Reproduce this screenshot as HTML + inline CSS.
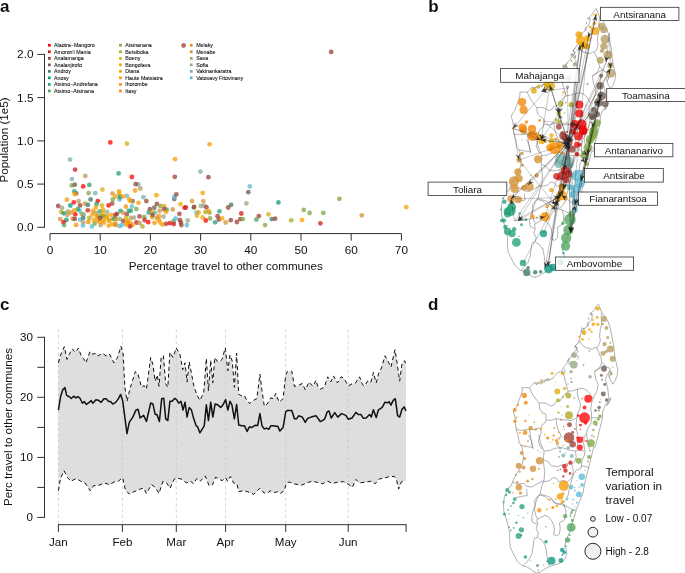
<!DOCTYPE html><html><head><meta charset="utf-8"><title>Figure</title>
<style>html,body{margin:0;padding:0;background:#fff}svg{display:block}text{font-family:"Liberation Sans",sans-serif;fill:#111}</style></head><body>
<svg width="685" height="573" viewBox="0 0 685 573">
<rect width="685" height="573" fill="#fff"/>
<text x="0" y="12.3" font-size="17" font-weight="bold" fill="#000">a</text>
<text x="428.3" y="12.3" font-size="17" font-weight="bold" fill="#000">b</text>
<text x="0" y="309.8" font-size="17" font-weight="bold" fill="#000">c</text>
<text x="428" y="309.8" font-size="17" font-weight="bold" fill="#000">d</text>
<g id="pa">
<g stroke="#303030" stroke-width="1" fill="none">
<path d="M50.0 233.6H401.4"/>
<path d="M50.0 233.6V240.6"/>
<path d="M100.2 233.6V240.6"/>
<path d="M150.4 233.6V240.6"/>
<path d="M200.6 233.6V240.6"/>
<path d="M250.8 233.6V240.6"/>
<path d="M301.0 233.6V240.6"/>
<path d="M351.2 233.6V240.6"/>
<path d="M401.4 233.6V240.6"/>
<path d="M44.5 227.8V53.9"/>
<path d="M44.5 227.3H37.3"/>
<path d="M44.5 184.1H37.3"/>
<path d="M44.5 140.9H37.3"/>
<path d="M44.5 97.6H37.3"/>
<path d="M44.5 54.4H37.3"/>
</g>
<text x="50.0" y="253.8" font-size="11.8" text-anchor="middle">0</text>
<text x="100.2" y="253.8" font-size="11.8" text-anchor="middle">10</text>
<text x="150.4" y="253.8" font-size="11.8" text-anchor="middle">20</text>
<text x="200.6" y="253.8" font-size="11.8" text-anchor="middle">30</text>
<text x="250.8" y="253.8" font-size="11.8" text-anchor="middle">40</text>
<text x="301.0" y="253.8" font-size="11.8" text-anchor="middle">50</text>
<text x="351.2" y="253.8" font-size="11.8" text-anchor="middle">60</text>
<text x="401.4" y="253.8" font-size="11.8" text-anchor="middle">70</text>
<text x="33.5" y="231.3" font-size="11.8" text-anchor="end">0.0</text>
<text x="33.5" y="188.1" font-size="11.8" text-anchor="end">0.5</text>
<text x="33.5" y="144.9" font-size="11.8" text-anchor="end">1.0</text>
<text x="33.5" y="101.6" font-size="11.8" text-anchor="end">1.5</text>
<text x="33.5" y="58.4" font-size="11.8" text-anchor="end">2.0</text>
<text x="225.8" y="270.2" font-size="11.65" text-anchor="middle">Percentage travel to other communes</text>
<text transform="translate(8.1,140) rotate(-90)" font-size="11.6" text-anchor="middle">Population (1e5)</text>
<rect x="48.0" y="43.9" width="2.7" height="2.7" fill="#ff0000"/>
<text x="54" y="47.0" font-size="5.3" fill="#000" stroke="#000" stroke-width="0.08">Alaotra−Mangoro</text>
<rect x="48.0" y="50.4" width="2.7" height="2.7" fill="#ce1e1a"/>
<text x="54" y="53.5" font-size="5.3" fill="#000" stroke="#000" stroke-width="0.08">Amoron'i Mania</text>
<rect x="48.0" y="57.0" width="2.7" height="2.7" fill="#9e3d35"/>
<text x="54" y="60.1" font-size="5.3" fill="#000" stroke="#000" stroke-width="0.08">Analamanga</text>
<rect x="48.0" y="63.5" width="2.7" height="2.7" fill="#6d5b4f"/>
<text x="54" y="66.6" font-size="5.3" fill="#000" stroke="#000" stroke-width="0.08">Analanjirofo</text>
<rect x="48.0" y="70.0" width="2.7" height="2.7" fill="#3d7a69"/>
<text x="54" y="73.1" font-size="5.3" fill="#000" stroke="#000" stroke-width="0.08">Androy</text>
<rect x="48.0" y="76.5" width="2.7" height="2.7" fill="#0c9883"/>
<text x="54" y="79.6" font-size="5.3" fill="#000" stroke="#000" stroke-width="0.08">Anosy</text>
<rect x="48.0" y="83.1" width="2.7" height="2.7" fill="#23a276"/>
<text x="54" y="86.2" font-size="5.3" fill="#000" stroke="#000" stroke-width="0.08">Atsimo−Andrefana</text>
<rect x="48.0" y="89.6" width="2.7" height="2.7" fill="#51a45c"/>
<text x="54" y="92.7" font-size="5.3" fill="#000" stroke="#000" stroke-width="0.08">Atsimo−Atsinana</text>
<rect x="119.1" y="43.9" width="2.7" height="2.7" fill="#7fa742"/>
<text x="125.3" y="47.0" font-size="5.3" fill="#000" stroke="#000" stroke-width="0.08">Atsinanana</text>
<rect x="119.1" y="50.4" width="2.7" height="2.7" fill="#ada927"/>
<text x="125.3" y="53.5" font-size="5.3" fill="#000" stroke="#000" stroke-width="0.08">Betsiboka</text>
<rect x="119.1" y="57.0" width="2.7" height="2.7" fill="#dbac0d"/>
<text x="125.3" y="60.1" font-size="5.3" fill="#000" stroke="#000" stroke-width="0.08">Boeny</text>
<rect x="119.1" y="63.5" width="2.7" height="2.7" fill="#f3a900"/>
<text x="125.3" y="66.6" font-size="5.3" fill="#000" stroke="#000" stroke-width="0.08">Bongolava</text>
<rect x="119.1" y="70.0" width="2.7" height="2.7" fill="#f4a100"/>
<text x="125.3" y="73.1" font-size="5.3" fill="#000" stroke="#000" stroke-width="0.08">Diana</text>
<rect x="119.1" y="76.5" width="2.7" height="2.7" fill="#f59900"/>
<text x="125.3" y="79.6" font-size="5.3" fill="#000" stroke="#000" stroke-width="0.08">Haute Matsiatra</text>
<rect x="119.1" y="83.1" width="2.7" height="2.7" fill="#f79200"/>
<text x="125.3" y="86.2" font-size="5.3" fill="#000" stroke="#000" stroke-width="0.08">Ihorombe</text>
<rect x="119.1" y="89.6" width="2.7" height="2.7" fill="#f88a00"/>
<text x="125.3" y="92.7" font-size="5.3" fill="#000" stroke="#000" stroke-width="0.08">Itasy</text>
<rect x="189.9" y="43.9" width="2.7" height="2.7" fill="#f1870a"/>
<text x="196.2" y="47.0" font-size="5.3" fill="#000" stroke="#000" stroke-width="0.08">Melaky</text>
<rect x="189.9" y="50.4" width="2.7" height="2.7" fill="#d39133"/>
<text x="196.2" y="53.5" font-size="5.3" fill="#000" stroke="#000" stroke-width="0.08">Menabe</text>
<rect x="189.9" y="57.0" width="2.7" height="2.7" fill="#b59c5c"/>
<text x="196.2" y="60.1" font-size="5.3" fill="#000" stroke="#000" stroke-width="0.08">Sava</text>
<rect x="189.9" y="63.5" width="2.7" height="2.7" fill="#97a784"/>
<text x="196.2" y="66.6" font-size="5.3" fill="#000" stroke="#000" stroke-width="0.08">Sofia</text>
<rect x="189.9" y="70.0" width="2.7" height="2.7" fill="#79b1ad"/>
<text x="196.2" y="73.1" font-size="5.3" fill="#000" stroke="#000" stroke-width="0.08">Vakinankaratra</text>
<rect x="189.9" y="76.5" width="2.7" height="2.7" fill="#5bbcd6"/>
<text x="196.2" y="79.6" font-size="5.3" fill="#000" stroke="#000" stroke-width="0.08">Vatovavy Fitovinany</text>
<g fill-opacity="0.75">
<circle cx="72.0" cy="179.1" r="2.4" fill="#79b1ad"/>
<circle cx="85.3" cy="176.0" r="2.4" fill="#b59c5c"/>
<circle cx="71.8" cy="185.4" r="2.4" fill="#7fa742"/>
<circle cx="74.8" cy="184.7" r="2.4" fill="#6d5b4f"/>
<circle cx="83.2" cy="186.4" r="2.4" fill="#ff0000"/>
<circle cx="89.3" cy="184.9" r="2.4" fill="#23a276"/>
<circle cx="102.4" cy="189.6" r="2.4" fill="#dbac0d"/>
<circle cx="76.1" cy="193.4" r="2.4" fill="#9e3d35"/>
<circle cx="74.3" cy="191.4" r="2.4" fill="#23a276"/>
<circle cx="74.5" cy="194.1" r="2.4" fill="#f3a900"/>
<circle cx="88.6" cy="193.1" r="2.4" fill="#7fa742"/>
<circle cx="95.2" cy="193.2" r="2.4" fill="#79b1ad"/>
<circle cx="112.5" cy="193.6" r="2.4" fill="#d39133"/>
<circle cx="115.4" cy="196.5" r="2.4" fill="#f4a100"/>
<circle cx="112.8" cy="199.5" r="2.4" fill="#7fa742"/>
<circle cx="66.9" cy="199.7" r="2.4" fill="#f59900"/>
<circle cx="73.8" cy="202.3" r="2.4" fill="#ff0000"/>
<circle cx="78.6" cy="201.1" r="2.4" fill="#b59c5c"/>
<circle cx="90.6" cy="199.5" r="2.4" fill="#3d7a69"/>
<circle cx="97.8" cy="201.1" r="2.4" fill="#ff0000"/>
<circle cx="84.9" cy="203.6" r="2.4" fill="#d39133"/>
<circle cx="87.8" cy="204.9" r="2.4" fill="#3d7a69"/>
<circle cx="96.5" cy="204.1" r="2.4" fill="#23a276"/>
<circle cx="101.9" cy="205.5" r="2.4" fill="#dbac0d"/>
<circle cx="108.6" cy="205.4" r="2.4" fill="#ff0000"/>
<circle cx="112.1" cy="203.6" r="2.4" fill="#9e3d35"/>
<circle cx="70.4" cy="205.5" r="2.4" fill="#0c9883"/>
<circle cx="80.1" cy="205.4" r="2.4" fill="#9e3d35"/>
<circle cx="58.2" cy="206.0" r="2.4" fill="#9e3d35"/>
<circle cx="62.0" cy="207.9" r="2.4" fill="#97a784"/>
<circle cx="95.8" cy="207.7" r="2.4" fill="#f4a100"/>
<circle cx="87.8" cy="210.3" r="2.4" fill="#ce1e1a"/>
<circle cx="79.6" cy="210.6" r="2.4" fill="#5bbcd6"/>
<circle cx="77.8" cy="209.2" r="2.4" fill="#23a276"/>
<circle cx="74.2" cy="210.3" r="2.4" fill="#f4a100"/>
<circle cx="67.9" cy="211.6" r="2.4" fill="#ada927"/>
<circle cx="61.2" cy="212.0" r="2.4" fill="#dbac0d"/>
<circle cx="63.8" cy="213.3" r="2.4" fill="#0c9883"/>
<circle cx="70.9" cy="212.6" r="2.4" fill="#d39133"/>
<circle cx="75.3" cy="214.3" r="2.4" fill="#ff0000"/>
<circle cx="81.7" cy="213.8" r="2.4" fill="#7fa742"/>
<circle cx="83.7" cy="214.3" r="2.4" fill="#97a784"/>
<circle cx="67.4" cy="214.9" r="2.4" fill="#b59c5c"/>
<circle cx="60.2" cy="219.1" r="2.4" fill="#d39133"/>
<circle cx="66.4" cy="220.0" r="2.4" fill="#0c9883"/>
<circle cx="72.7" cy="218.7" r="2.4" fill="#d39133"/>
<circle cx="74.8" cy="218.9" r="2.4" fill="#9e3d35"/>
<circle cx="63.5" cy="222.2" r="2.4" fill="#ff0000"/>
<circle cx="64.1" cy="225.1" r="2.4" fill="#51a45c"/>
<circle cx="76.1" cy="224.9" r="2.4" fill="#f79200"/>
<circle cx="80.1" cy="219.7" r="2.4" fill="#5bbcd6"/>
<circle cx="83.2" cy="217.9" r="2.4" fill="#3d7a69"/>
<circle cx="83.2" cy="222.5" r="2.4" fill="#b59c5c"/>
<circle cx="82.9" cy="225.6" r="2.4" fill="#5bbcd6"/>
<circle cx="88.3" cy="222.0" r="2.4" fill="#f88a00"/>
<circle cx="89.3" cy="217.9" r="2.4" fill="#ada927"/>
<circle cx="91.9" cy="226.4" r="2.4" fill="#5bbcd6"/>
<circle cx="94.7" cy="223.5" r="2.4" fill="#7fa742"/>
<circle cx="100.6" cy="225.1" r="2.4" fill="#b59c5c"/>
<circle cx="92.9" cy="210.8" r="2.4" fill="#f59900"/>
<circle cx="96.0" cy="212.8" r="2.4" fill="#b59c5c"/>
<circle cx="100.1" cy="211.3" r="2.4" fill="#23a276"/>
<circle cx="103.1" cy="209.7" r="2.4" fill="#f4a100"/>
<circle cx="107.2" cy="211.8" r="2.4" fill="#79b1ad"/>
<circle cx="98.0" cy="215.9" r="2.4" fill="#7fa742"/>
<circle cx="103.1" cy="215.9" r="2.4" fill="#0c9883"/>
<circle cx="106.2" cy="217.9" r="2.4" fill="#dbac0d"/>
<circle cx="109.3" cy="220.0" r="2.4" fill="#d39133"/>
<circle cx="103.1" cy="220.0" r="2.4" fill="#dbac0d"/>
<circle cx="97.5" cy="220.0" r="2.4" fill="#f59900"/>
<circle cx="108.8" cy="225.6" r="2.4" fill="#f59900"/>
<circle cx="112.3" cy="224.1" r="2.4" fill="#f4a100"/>
<circle cx="115.4" cy="225.1" r="2.4" fill="#f79200"/>
<circle cx="113.4" cy="218.9" r="2.4" fill="#51a45c"/>
<circle cx="111.3" cy="214.9" r="2.4" fill="#f4a100"/>
<circle cx="115.4" cy="214.9" r="2.4" fill="#9e3d35"/>
<circle cx="93.9" cy="220.0" r="2.4" fill="#f4a100"/>
<circle cx="131.9" cy="177.0" r="2.4" fill="#ff0000"/>
<circle cx="174.8" cy="176.8" r="2.4" fill="#9e3d35"/>
<circle cx="138.3" cy="184.4" r="2.4" fill="#79b1ad"/>
<circle cx="135.7" cy="184.2" r="2.4" fill="#9e3d35"/>
<circle cx="140.3" cy="188.5" r="2.4" fill="#b59c5c"/>
<circle cx="135.1" cy="190.5" r="2.4" fill="#f59900"/>
<circle cx="119.1" cy="193.4" r="2.4" fill="#f3a900"/>
<circle cx="119.1" cy="191.4" r="2.4" fill="#f4a100"/>
<circle cx="126.8" cy="195.9" r="2.4" fill="#79b1ad"/>
<circle cx="119.6" cy="199.5" r="2.4" fill="#5bbcd6"/>
<circle cx="119.9" cy="197.0" r="2.4" fill="#0c9883"/>
<circle cx="122.7" cy="196.5" r="2.4" fill="#f59900"/>
<circle cx="129.3" cy="199.5" r="2.4" fill="#f59900"/>
<circle cx="132.6" cy="201.1" r="2.4" fill="#6d5b4f"/>
<circle cx="130.3" cy="201.1" r="2.4" fill="#f4a100"/>
<circle cx="143.4" cy="197.2" r="2.4" fill="#79b1ad"/>
<circle cx="146.4" cy="201.1" r="2.4" fill="#9e3d35"/>
<circle cx="138.5" cy="202.8" r="2.4" fill="#f59900"/>
<circle cx="156.4" cy="195.2" r="2.4" fill="#f4a100"/>
<circle cx="174.3" cy="199.0" r="2.4" fill="#6d5b4f"/>
<circle cx="174.3" cy="196.8" r="2.4" fill="#5bbcd6"/>
<circle cx="176.3" cy="194.4" r="2.4" fill="#9e3d35"/>
<circle cx="180.4" cy="204.1" r="2.4" fill="#f3a900"/>
<circle cx="184.5" cy="207.7" r="2.4" fill="#ce1e1a"/>
<circle cx="125.9" cy="206.7" r="2.4" fill="#f79200"/>
<circle cx="131.9" cy="206.5" r="2.4" fill="#5bbcd6"/>
<circle cx="136.3" cy="209.0" r="2.4" fill="#7fa742"/>
<circle cx="156.9" cy="203.9" r="2.4" fill="#9e3d35"/>
<circle cx="154.3" cy="207.7" r="2.4" fill="#6d5b4f"/>
<circle cx="160.2" cy="206.0" r="2.4" fill="#7fa742"/>
<circle cx="164.1" cy="206.2" r="2.4" fill="#f4a100"/>
<circle cx="149.9" cy="209.2" r="2.4" fill="#9e3d35"/>
<circle cx="166.6" cy="209.7" r="2.4" fill="#23a276"/>
<circle cx="164.1" cy="209.2" r="2.4" fill="#9e3d35"/>
<circle cx="159.7" cy="210.8" r="2.4" fill="#d39133"/>
<circle cx="172.7" cy="209.5" r="2.4" fill="#d39133"/>
<circle cx="166.1" cy="211.8" r="2.4" fill="#f59900"/>
<circle cx="179.4" cy="213.8" r="2.4" fill="#9e3d35"/>
<circle cx="120.6" cy="210.8" r="2.4" fill="#23a276"/>
<circle cx="128.8" cy="210.8" r="2.4" fill="#23a276"/>
<circle cx="130.8" cy="210.8" r="2.4" fill="#23a276"/>
<circle cx="117.0" cy="213.8" r="2.4" fill="#9e3d35"/>
<circle cx="123.2" cy="212.8" r="2.4" fill="#d39133"/>
<circle cx="126.8" cy="214.3" r="2.4" fill="#9e3d35"/>
<circle cx="148.7" cy="212.6" r="2.4" fill="#23a276"/>
<circle cx="155.1" cy="212.6" r="2.4" fill="#5bbcd6"/>
<circle cx="152.5" cy="212.3" r="2.4" fill="#dbac0d"/>
<circle cx="152.3" cy="217.4" r="2.4" fill="#dbac0d"/>
<circle cx="152.5" cy="214.9" r="2.4" fill="#9e3d35"/>
<circle cx="158.9" cy="215.9" r="2.4" fill="#f59900"/>
<circle cx="163.5" cy="216.7" r="2.4" fill="#97a784"/>
<circle cx="139.5" cy="216.4" r="2.4" fill="#9e3d35"/>
<circle cx="144.3" cy="216.9" r="2.4" fill="#7fa742"/>
<circle cx="133.9" cy="217.7" r="2.4" fill="#97a784"/>
<circle cx="130.8" cy="217.9" r="2.4" fill="#b59c5c"/>
<circle cx="119.6" cy="218.9" r="2.4" fill="#97a784"/>
<circle cx="123.2" cy="221.0" r="2.4" fill="#9e3d35"/>
<circle cx="115.0" cy="218.9" r="2.4" fill="#3d7a69"/>
<circle cx="127.3" cy="221.0" r="2.4" fill="#f59900"/>
<circle cx="130.3" cy="223.0" r="2.4" fill="#f4a100"/>
<circle cx="125.7" cy="224.6" r="2.4" fill="#f59900"/>
<circle cx="132.4" cy="225.1" r="2.4" fill="#f79200"/>
<circle cx="129.8" cy="226.4" r="2.4" fill="#ce1e1a"/>
<circle cx="119.6" cy="226.1" r="2.4" fill="#5bbcd6"/>
<circle cx="115.5" cy="224.1" r="2.4" fill="#d39133"/>
<circle cx="121.6" cy="225.1" r="2.4" fill="#5bbcd6"/>
<circle cx="136.5" cy="222.5" r="2.4" fill="#ce1e1a"/>
<circle cx="139.5" cy="223.0" r="2.4" fill="#b59c5c"/>
<circle cx="142.4" cy="226.4" r="2.4" fill="#ada927"/>
<circle cx="144.6" cy="220.0" r="2.4" fill="#ce1e1a"/>
<circle cx="148.2" cy="222.2" r="2.4" fill="#ff0000"/>
<circle cx="154.5" cy="222.8" r="2.4" fill="#f79200"/>
<circle cx="158.9" cy="220.0" r="2.4" fill="#f59900"/>
<circle cx="160.0" cy="222.5" r="2.4" fill="#f4a100"/>
<circle cx="162.5" cy="224.6" r="2.4" fill="#f4a100"/>
<circle cx="166.1" cy="223.8" r="2.4" fill="#9e3d35"/>
<circle cx="169.9" cy="223.2" r="2.4" fill="#ff0000"/>
<circle cx="173.8" cy="221.0" r="2.4" fill="#51a45c"/>
<circle cx="173.8" cy="224.1" r="2.4" fill="#ce1e1a"/>
<circle cx="175.6" cy="218.4" r="2.4" fill="#5bbcd6"/>
<circle cx="179.9" cy="220.0" r="2.4" fill="#9e3d35"/>
<circle cx="180.9" cy="222.5" r="2.4" fill="#9e3d35"/>
<circle cx="181.4" cy="225.1" r="2.4" fill="#9e3d35"/>
<circle cx="156.9" cy="217.9" r="2.4" fill="#d39133"/>
<circle cx="208.4" cy="177.2" r="2.4" fill="#9e3d35"/>
<circle cx="202.7" cy="192.9" r="2.4" fill="#f4a100"/>
<circle cx="249.8" cy="186.4" r="2.4" fill="#5bbcd6"/>
<circle cx="248.3" cy="192.2" r="2.4" fill="#6d5b4f"/>
<circle cx="192.0" cy="201.1" r="2.4" fill="#d39133"/>
<circle cx="203.3" cy="201.1" r="2.4" fill="#d39133"/>
<circle cx="246.4" cy="203.4" r="2.4" fill="#97a784"/>
<circle cx="231.1" cy="204.8" r="2.4" fill="#3d7a69"/>
<circle cx="228.2" cy="207.5" r="2.4" fill="#9e3d35"/>
<circle cx="185.9" cy="207.5" r="2.4" fill="#ce1e1a"/>
<circle cx="193.8" cy="207.5" r="2.4" fill="#7fa742"/>
<circle cx="194.1" cy="206.9" r="2.4" fill="#9e3d35"/>
<circle cx="200.9" cy="206.0" r="2.4" fill="#97a784"/>
<circle cx="204.0" cy="205.7" r="2.4" fill="#97a784"/>
<circle cx="206.4" cy="207.2" r="2.4" fill="#9e3d35"/>
<circle cx="208.6" cy="210.8" r="2.4" fill="#f4a100"/>
<circle cx="205.5" cy="212.0" r="2.4" fill="#ada927"/>
<circle cx="209.6" cy="212.8" r="2.4" fill="#ada927"/>
<circle cx="219.5" cy="211.3" r="2.4" fill="#23a276"/>
<circle cx="241.3" cy="213.5" r="2.4" fill="#ce1e1a"/>
<circle cx="196.4" cy="212.6" r="2.4" fill="#5bbcd6"/>
<circle cx="198.6" cy="212.3" r="2.4" fill="#f4a100"/>
<circle cx="196.9" cy="215.7" r="2.4" fill="#dbac0d"/>
<circle cx="202.8" cy="217.4" r="2.4" fill="#f4a100"/>
<circle cx="210.1" cy="218.4" r="2.4" fill="#7fa742"/>
<circle cx="205.8" cy="220.5" r="2.4" fill="#ff0000"/>
<circle cx="217.6" cy="216.2" r="2.4" fill="#9e3d35"/>
<circle cx="218.8" cy="219.5" r="2.4" fill="#9e3d35"/>
<circle cx="222.1" cy="218.4" r="2.4" fill="#f4a100"/>
<circle cx="215.1" cy="222.3" r="2.4" fill="#23a276"/>
<circle cx="225.7" cy="222.5" r="2.4" fill="#d39133"/>
<circle cx="230.8" cy="220.2" r="2.4" fill="#9e3d35"/>
<circle cx="236.9" cy="222.0" r="2.4" fill="#9e3d35"/>
<circle cx="240.3" cy="219.1" r="2.4" fill="#9e3d35"/>
<circle cx="242.8" cy="219.1" r="2.4" fill="#7fa742"/>
<circle cx="187.7" cy="220.5" r="2.4" fill="#97a784"/>
<circle cx="186.9" cy="225.1" r="2.4" fill="#5bbcd6"/>
<circle cx="278.4" cy="202.4" r="2.4" fill="#0c9883"/>
<circle cx="303.8" cy="209.9" r="2.4" fill="#7fa742"/>
<circle cx="309.6" cy="213.0" r="2.4" fill="#7fa742"/>
<circle cx="258.8" cy="216.1" r="2.4" fill="#9e3d35"/>
<circle cx="256.4" cy="219.5" r="2.4" fill="#51a45c"/>
<circle cx="268.5" cy="214.3" r="2.4" fill="#dbac0d"/>
<circle cx="271.8" cy="219.1" r="2.4" fill="#3d7a69"/>
<circle cx="275.1" cy="218.7" r="2.4" fill="#9e3d35"/>
<circle cx="265.1" cy="225.1" r="2.4" fill="#7fa742"/>
<circle cx="291.2" cy="220.3" r="2.4" fill="#ada927"/>
<circle cx="302.0" cy="220.0" r="2.4" fill="#f4a100"/>
<circle cx="339.4" cy="198.8" r="2.4" fill="#7fa742"/>
<circle cx="323.3" cy="212.9" r="2.4" fill="#7fa742"/>
<circle cx="320.4" cy="223.3" r="2.4" fill="#ce1e1a"/>
<circle cx="361.8" cy="215.3" r="2.4" fill="#d39133"/>
<circle cx="406.3" cy="207.2" r="2.4" fill="#f4a100"/>
<circle cx="110.3" cy="142.4" r="2.4" fill="#ff0000"/>
<circle cx="126.9" cy="143.7" r="2.4" fill="#dbac0d"/>
<circle cx="70.0" cy="159.6" r="2.4" fill="#79b1ad"/>
<circle cx="75.1" cy="169.6" r="2.4" fill="#ce1e1a"/>
<circle cx="118.6" cy="173.4" r="2.4" fill="#23a276"/>
<circle cx="209.6" cy="144.3" r="2.4" fill="#f4a100"/>
<circle cx="175.1" cy="159.2" r="2.4" fill="#f4a100"/>
<circle cx="200.4" cy="171.6" r="2.4" fill="#79b1ad"/>
<circle cx="183.6" cy="45.5" r="2.4" fill="#9e3d35"/>
<circle cx="331.2" cy="51.9" r="2.4" fill="#9e3d35"/>
<circle cx="96.7" cy="216" r="2.4" fill="#f4a100"/>
<circle cx="106.9" cy="216" r="2.4" fill="#f59900"/>
<circle cx="109" cy="220.7" r="2.4" fill="#f4a100"/>
<circle cx="104" cy="222.5" r="2.4" fill="#f59900"/>
<circle cx="99.6" cy="221.8" r="2.4" fill="#f79200"/>
<circle cx="92.3" cy="214.5" r="2.4" fill="#f4a100"/>
<circle cx="125.9" cy="218.1" r="2.4" fill="#dbac0d"/>
<circle cx="101.8" cy="216" r="2.4" fill="#7fa742"/>
<circle cx="115.7" cy="219.6" r="2.4" fill="#dbac0d"/>
<circle cx="128" cy="222.5" r="2.4" fill="#f59900"/>
<circle cx="103.2" cy="213" r="2.4" fill="#f3a900"/>
<circle cx="100" cy="218.1" r="2.4" fill="#9e3d35"/>
</g>
</g>
<g id="pc">
<path d="M58.41,362.92 L60.51,355.04 L64.36,346.63 L66.99,359.42 L69.27,354.16 L72.25,348.91 L75.4,352.41 L78.38,348.03 L81.53,356.79 L83.64,358.54 L85.91,362.92 L89.94,351.53 L92.92,354.16 L95.9,353.28 L98.18,355.91 L102.55,353.28 L106.06,355.91 L109.56,354.16 L113.94,362.92 L117.45,357.66 L120.95,346.28 L123.14,354.01 L124.89,387.3 L126.99,401.31 L130.15,388.18 L135.4,371.53 L138.03,374.16 L141.53,387.3 L144.16,385.55 L146.44,389.05 L150.64,357.52 L152.92,364.53 L155.2,381.17 L157.3,375.04 L159.05,386.42 L161.15,357.52 L163.43,355.77 L165.71,383.8 L167.81,387.3 L169.91,352.26 L173.07,357.52 L176.22,347.88 L180.07,354.89 L182.7,369.78 L184.98,362.77 L187.08,382.04 L189.18,361.9 L191.46,373.28 L193.74,385.55 L196.72,394.31 L199.87,400.44 L203.72,392.55 L206.35,358.39 L208.45,390.8 L210.73,360.15 L212.83,382.92 L214.76,357.52 L217.74,361.9 L220.36,361.02 L222.12,359.27 L225.27,347.88 L227.88,370.66 L229.99,354.89 L232.26,361.02 L234.36,387.3 L236.64,353.14 L238.74,394.31 L241.9,396.06 L244.53,395.71 L247.15,401.31 L249.78,403.42 L253.28,400.44 L256.79,398.69 L259.94,374.16 L262.04,390.8 L264.32,406.22 L267.3,403.94 L270.8,397.81 L273.43,398.69 L275.71,393.43 L279.21,402.19 L283.07,398.69 L285.69,375.04 L287.45,371.53 L291.82,371.18 L294.45,386.42 L297.96,385.55 L302.34,383.45 L305.31,389.93 L308.99,382.04 L312.85,386.42 L316.0,380.29 L318.1,387.3 L320.73,389.05 L324.23,387.3 L327.74,376.79 L330.72,382.04 L333.52,375.91 L337.37,382.92 L341.18,376.79 L344.16,378.54 L348.19,385.9 L352.04,383.8 L355.55,382.92 L359.58,376.79 L362.55,384.67 L364.66,385.9 L367.81,380.64 L370.96,382.04 L373.42,372.41 L376.22,382.92 L378.67,373.28 L381.47,368.03 L384.98,355.77 L387.96,361.02 L390.93,367.15 L394.96,349.64 L397.07,362.77 L399.69,381.17 L401.97,363.65 L404.6,360.67 L406.0,364.53 L406,364.5 L406,480.3 405.69,480.29 L403.94,480.64 L401.31,482.04 L398.69,489.05 L396.41,479.42 L394.31,476.44 L389.93,476.44 L383.87,478.19 L379.49,478.89 L375.11,483.8 L371.61,481.17 L366.35,482.04 L359.34,482.92 L355.84,479.42 L352.34,487.3 L348.83,484.67 L343.58,481.69 L338.32,482.04 L332.19,483.45 L327.81,481.17 L322.55,483.8 L317.3,482.39 L312.04,481.17 L306.79,482.92 L301.53,485.2 L298.91,484.67 L293.65,483.8 L289.27,482.04 L286.64,482.92 L284.01,490.8 L280.51,493.43 L277.88,491.68 L274.38,492.55 L270.0,490.8 L268.61,492.55 L264.23,493.08 L259.85,488.18 L253.72,494.31 L247.59,491.68 L243.21,490.8 L238.83,491.68 L236.73,483.45 L233.58,482.92 L230.42,476.44 L227.45,481.17 L225.69,477.66 L222.19,480.64 L219.56,479.42 L215.71,477.14 L212.55,484.67 L209.05,485.55 L205.2,475.91 L200.29,481.17 L196.79,478.54 L193.28,483.8 L190.66,481.17 L186.28,482.92 L181.02,478.89 L176.64,478.19 L174.01,479.42 L170.16,488.18 L166.5,482.92 L162.99,481.17 L158.96,493.43 L155.11,487.3 L151.61,484.67 L146.35,493.43 L143.72,488.18 L140.22,489.05 L134.09,491.68 L129.18,493.96 L125.33,489.93 L122.7,477.66 L118.32,481.17 L113.94,482.04 L109.56,484.67 L104.31,482.92 L98.18,485.55 L93.8,485.55 L90.29,490.8 L85.04,482.92 L80.66,481.17 L76.28,478.54 L71.02,481.17 L67.52,477.66 L64.01,470.66 L60.51,478.54 L58.41,490.8Z" fill="#dedede"/>
<g stroke="#c6c6c6" stroke-width="0.8" stroke-dasharray="2.9 2.9" fill="none">
<path d="M58.4 329.5V524"/>
<path d="M122.4 329.5V524"/>
<path d="M176.3 329.5V524"/>
<path d="M225.6 329.5V524"/>
<path d="M285.7 329.5V524"/>
<path d="M348.2 329.5V524"/>
</g>
<g stroke="#111" fill="none" stroke-linejoin="round">
<path stroke-width="1" stroke-dasharray="4 3" d="M58.41,362.92 L60.51,355.04 L64.36,346.63 L66.99,359.42 L69.27,354.16 L72.25,348.91 L75.4,352.41 L78.38,348.03 L81.53,356.79 L83.64,358.54 L85.91,362.92 L89.94,351.53 L92.92,354.16 L95.9,353.28 L98.18,355.91 L102.55,353.28 L106.06,355.91 L109.56,354.16 L113.94,362.92 L117.45,357.66 L120.95,346.28 L123.14,354.01 L124.89,387.3 L126.99,401.31 L130.15,388.18 L135.4,371.53 L138.03,374.16 L141.53,387.3 L144.16,385.55 L146.44,389.05 L150.64,357.52 L152.92,364.53 L155.2,381.17 L157.3,375.04 L159.05,386.42 L161.15,357.52 L163.43,355.77 L165.71,383.8 L167.81,387.3 L169.91,352.26 L173.07,357.52 L176.22,347.88 L180.07,354.89 L182.7,369.78 L184.98,362.77 L187.08,382.04 L189.18,361.9 L191.46,373.28 L193.74,385.55 L196.72,394.31 L199.87,400.44 L203.72,392.55 L206.35,358.39 L208.45,390.8 L210.73,360.15 L212.83,382.92 L214.76,357.52 L217.74,361.9 L220.36,361.02 L222.12,359.27 L225.27,347.88 L227.88,370.66 L229.99,354.89 L232.26,361.02 L234.36,387.3 L236.64,353.14 L238.74,394.31 L241.9,396.06 L244.53,395.71 L247.15,401.31 L249.78,403.42 L253.28,400.44 L256.79,398.69 L259.94,374.16 L262.04,390.8 L264.32,406.22 L267.3,403.94 L270.8,397.81 L273.43,398.69 L275.71,393.43 L279.21,402.19 L283.07,398.69 L285.69,375.04 L287.45,371.53 L291.82,371.18 L294.45,386.42 L297.96,385.55 L302.34,383.45 L305.31,389.93 L308.99,382.04 L312.85,386.42 L316.0,380.29 L318.1,387.3 L320.73,389.05 L324.23,387.3 L327.74,376.79 L330.72,382.04 L333.52,375.91 L337.37,382.92 L341.18,376.79 L344.16,378.54 L348.19,385.9 L352.04,383.8 L355.55,382.92 L359.58,376.79 L362.55,384.67 L364.66,385.9 L367.81,380.64 L370.96,382.04 L373.42,372.41 L376.22,382.92 L378.67,373.28 L381.47,368.03 L384.98,355.77 L387.96,361.02 L390.93,367.15 L394.96,349.64 L397.07,362.77 L399.69,381.17 L401.97,363.65 L404.6,360.67 L406.0,364.53"/>
<path stroke-width="1" stroke-dasharray="4 3" d="M58.41,490.8 L60.51,478.54 L64.01,470.66 L67.52,477.66 L71.02,481.17 L76.28,478.54 L80.66,481.17 L85.04,482.92 L90.29,490.8 L93.8,485.55 L98.18,485.55 L104.31,482.92 L109.56,484.67 L113.94,482.04 L118.32,481.17 L122.7,477.66 L125.33,489.93 L129.18,493.96 L134.09,491.68 L140.22,489.05 L143.72,488.18 L146.35,493.43 L151.61,484.67 L155.11,487.3 L158.96,493.43 L162.99,481.17 L166.5,482.92 L170.16,488.18 L174.01,479.42 L176.64,478.19 L181.02,478.89 L186.28,482.92 L190.66,481.17 L193.28,483.8 L196.79,478.54 L200.29,481.17 L205.2,475.91 L209.05,485.55 L212.55,484.67 L215.71,477.14 L219.56,479.42 L222.19,480.64 L225.69,477.66 L227.45,481.17 L230.42,476.44 L233.58,482.92 L236.73,483.45 L238.83,491.68 L243.21,490.8 L247.59,491.68 L253.72,494.31 L259.85,488.18 L264.23,493.08 L268.61,492.55 L270.0,490.8 L274.38,492.55 L277.88,491.68 L280.51,493.43 L284.01,490.8 L286.64,482.92 L289.27,482.04 L293.65,483.8 L298.91,484.67 L301.53,485.2 L306.79,482.92 L312.04,481.17 L317.3,482.39 L322.55,483.8 L327.81,481.17 L332.19,483.45 L338.32,482.04 L343.58,481.69 L348.83,484.67 L352.34,487.3 L355.84,479.42 L359.34,482.92 L366.35,482.04 L371.61,481.17 L375.11,483.8 L379.49,478.89 L383.87,478.19 L389.93,476.44 L394.31,476.44 L396.41,479.42 L398.69,489.05 L401.31,482.04 L403.94,480.64 L405.69,480.29"/>
<path stroke-width="1.5" d="M58.41,410.22 L60.51,397.08 L62.61,390.07 L64.89,387.45 L66.64,395.33 L69.27,396.73 L71.37,398.48 L73.65,396.2 L75.93,397.96 L78.03,396.55 L80.13,398.48 L82.41,403.21 L84.16,401.46 L86.44,404.44 L88.89,402.69 L91.17,400.58 L92.92,403.21 L95.9,399.71 L98.18,400.23 L101.15,402.34 L103.96,398.83 L106.06,398.83 L108.69,401.46 L110.44,401.46 L112.72,404.09 L115.69,402.34 L118.32,398.83 L120.6,394.45 L122.61,400.44 L124.36,413.58 L126.99,433.72 L129.27,422.34 L132.77,417.08 L135.93,410.07 L138.03,409.2 L140.13,417.96 L143.64,415.33 L146.44,421.46 L150.64,403.07 L152.92,403.94 L155.2,414.45 L156.95,414.45 L159.4,421.46 L161.68,398.69 L163.78,398.34 L165.71,418.83 L167.81,420.58 L169.91,401.31 L172.19,401.31 L174.82,398.34 L176.57,399.56 L178.67,403.07 L180.95,401.31 L183.05,410.07 L184.98,402.19 L187.08,417.08 L189.18,407.45 L191.46,410.07 L193.74,418.83 L196.19,425.84 L197.59,426.72 L199.87,432.85 L204.25,425.84 L206.35,404.82 L208.45,420.58 L210.73,402.19 L212.83,417.08 L215.11,403.94 L217.74,404.82 L220.72,407.45 L222.99,404.82 L225.62,399.56 L227.88,410.07 L229.99,401.31 L231.91,404.82 L234.36,418.83 L236.64,404.47 L238.74,424.96 L241.9,425.84 L244.53,425.84 L247.15,431.45 L249.43,426.72 L251.53,427.59 L255.04,425.31 L257.66,425.49 L259.94,413.58 L262.04,425.84 L264.32,428.99 L266.42,428.12 L268.7,429.34 L270.8,425.84 L273.43,425.84 L276.06,426.36 L277.81,426.36 L279.91,431.09 L283.07,427.59 L285.69,411.82 L287.45,410.42 L291.82,410.42 L294.45,418.83 L296.55,418.83 L298.83,415.68 L302.34,417.08 L305.31,422.34 L307.59,418.48 L311.09,417.08 L316.0,415.68 L320.2,421.46 L322.48,420.58 L324.76,418.83 L327.21,411.82 L328.96,410.95 L331.24,417.96 L334.74,412.7 L337.72,417.08 L341.53,413.58 L345.91,415.33 L348.19,419.18 L352.04,417.96 L355.9,412.35 L358.18,414.45 L360.8,414.45 L363.43,418.31 L366.06,417.96 L369.56,414.45 L371.31,417.08 L373.42,409.72 L376.22,417.61 L378.32,410.07 L382.18,407.45 L384.98,402.19 L387.96,402.72 L389.18,401.66 L390.93,405.17 L393.21,400.44 L395.31,398.69 L397.59,415.68 L399.69,417.08 L401.97,409.2 L404.07,406.92 L406.0,410.95"/>
</g>
<g stroke="#303030" stroke-width="1" fill="none">
<path d="M58 524.7H406.6"/>
<path d="M58.4 524.7V531.9"/>
<path d="M122.4 524.7V531.9"/>
<path d="M176.3 524.7V531.9"/>
<path d="M225.6 524.7V531.9"/>
<path d="M285.7 524.7V531.9"/>
<path d="M348.2 524.7V531.9"/>
<path d="M406.1 524.7V531.9"/>
<path d="M44.5 517.9V336.8"/>
<path d="M44.5 517.4H37.3"/>
<path d="M44.5 487.4H37.3"/>
<path d="M44.5 457.4H37.3"/>
<path d="M44.5 427.4H37.3"/>
<path d="M44.5 397.3H37.3"/>
<path d="M44.5 367.3H37.3"/>
<path d="M44.5 337.3H37.3"/>
</g>
<text x="58.4" y="545.5" font-size="11.6" text-anchor="middle">Jan</text>
<text x="122.4" y="545.5" font-size="11.6" text-anchor="middle">Feb</text>
<text x="176.3" y="545.5" font-size="11.6" text-anchor="middle">Mar</text>
<text x="225.6" y="545.5" font-size="11.6" text-anchor="middle">Apr</text>
<text x="285.7" y="545.5" font-size="11.6" text-anchor="middle">May</text>
<text x="348.2" y="545.5" font-size="11.6" text-anchor="middle">Jun</text>
<text x="33" y="521.3" font-size="11.6" text-anchor="end">0</text>
<text x="33" y="461.3" font-size="11.6" text-anchor="end">10</text>
<text x="33" y="401.2" font-size="11.6" text-anchor="end">20</text>
<text x="33" y="341.2" font-size="11.6" text-anchor="end">30</text>
<text transform="translate(11.5,427) rotate(-90)" font-size="11.6" text-anchor="middle">Perc travel to other communes</text>
</g>
<g id="pb">
<path d="M596.3,8.6 L597.9,12.7 L599.6,17.1 L603.3,21.5 L606.2,26.6 L608.2,33.2 L609.9,42.0 L611.4,49.4 L612.1,56.7 L613.1,64.0 L614.3,68.4 L614.3,69.5 L615.7,73.9 L615.0,79.8 L612.8,85.6 L610.6,88.6 L608.4,84.9 L606.9,81.2 L606.2,77.6 L604.7,79.8 L603.3,84.2 L604.4,88.6 L605.5,93.0 L606.2,98.8 L606.9,102.5 L605.5,106.2 L602.5,110.6 L600.3,116.4 L600.3,122.3 L598.9,128.2 L597.4,134.0 L595.2,142.8 L593.0,151.6 L591.6,151.2 L588.7,163.0 L585.8,174.7 L582.8,186.4 L580.6,198.2 L577.1,206.7 L574.2,214.0 L572.0,221.4 L569.8,228.7 L567.6,236.0 L564.6,243.4 L562.4,250.7 L563.9,253.6 L564.6,258.0 L563.2,262.4 L560.2,266.1 L555.8,268.3 L551.5,269.7 L547.1,271.2 L542.7,273.4 L538.3,276.3 L534.6,277.5 L531.7,276.3 L528.0,273.4 L524.3,271.2 L520.7,270.5 L518.5,269.0 L514.8,265.3 L512.6,260.9 L510.4,256.5 L508.2,252.2 L507.5,244.8 L507.5,237.5 L506.0,230.2 L503.8,222.8 L501.6,215.5 L501.3,208.2 L502.3,200.8 L503.7,198.2 L505.1,193.0 L508.8,190.8 L510.3,186.4 L512.5,182.0 L514.7,177.6 L517.6,173.2 L519.8,168.8 L521.3,163.0 L520.5,157.1 L519.8,151.2 L517.0,147.2 L516.3,142.8 L515.5,138.4 L514.1,134.0 L513.3,129.6 L513.3,125.2 L512.6,120.8 L511.1,116.4 L512.6,113.5 L514.8,110.6 L516.3,106.2 L518.5,100.3 L519.9,95.9 L519.9,92.2 L523.6,92.2 L527.3,92.2 L532.4,87.1 L533.9,87.8 L537.5,86.4 L541.2,84.9 L545.6,84.2 L550.0,83.4 L552.9,79.8 L555.8,76.8 L559.5,76.1 L559.3,75.7 L560.8,72.8 L563.0,69.9 L565.2,66.9 L567.4,62.5 L570.3,59.6 L571.8,56.7 L574.7,53.8 L573.3,50.1 L575.5,47.9 L577.7,43.5 L578.4,39.1 L579.1,35.4 L582.8,32.5 L585.7,30.3 L586.5,27.4 L588.7,25.2 L590.1,21.5 L589.4,17.1 L592.3,14.2 L594.5,10.5Z" fill="#fff" stroke="#666" stroke-width="0.5" stroke-linejoin="round"/>
<g fill="none" stroke="#666" stroke-width="0.5" stroke-linejoin="round">
<path d="M599.6,17.1 L598.9,23.0 L599.6,28.8 L598.2,33.2 L597.4,40.6 L598.2,45.0 L596.7,49.4 L594.5,52.3 L592.3,52.0 L590.1,53.8 L587.2,53.0 L584.3,52.3 L581.3,50.8 L579.4,48.6 L577.7,46.4"/>
<path d="M594.5,52.3 L596.7,57.4 L598.9,62.5 L599.6,66.9 L597.9,71.3 L594.5,74.3 L592.3,75.7"/>
<path d="M599.6,66.9 L604.0,71.3 L607.7,72.8 L608.4,78.7 L607.0,81.6"/>
<path d="M603.3,69.5 L600.3,71.0 L595.9,73.9 L592.3,76.1 L593.7,84.2 L595.9,88.6 L595.2,94.4 L593.0,98.8 L590.8,103.2 L589.3,107.6 L588.6,113.5 L589.3,117.9 L589.3,122.3 L594.5,122.3 L599.6,121.6"/>
<path d="M590.8,103.2 L587.1,97.4 L584.2,94.4 L579.8,92.7 L575.4,93.7 L575.1,98.8 L576.9,104.7 L578.3,109.1 L577.6,113.5 L575.4,117.9 L574.7,122.3 L573.9,128.2 L574.7,135.5 L576.1,142.8 L575.4,148.7 L574.7,153.5"/>
<path d="M589.3,122.3 L588.6,128.2 L585.7,132.5 L584.2,138.4 L584.9,142.8 L586.4,148.7 L587.1,153.5"/>
<path d="M527.3,92.2 L529.5,97.4 L531.7,101.0 L534.6,104.7 L536.8,107.6 L541.2,107.3 L544.9,108.4 L548.5,110.6 L552.2,109.1 L554.4,106.2 L558.0,105.4 L560.5,101.0 L563.2,98.1 L566.1,95.9 L564.6,91.5 L563.2,85.6 L561.7,79.8 L560.5,75.4"/>
<path d="M566.1,95.9 L570.5,95.2 L575.4,93.7"/>
<path d="M536.8,107.6 L537.5,113.5 L539.7,116.4 L543.4,118.6 L544.1,123.8 L542.7,127.4 L539.7,129.6 L538.3,133.3 L539.0,136.9 L537.5,141.3 L536.1,145.7 L537.5,149.4 L539.7,153.5"/>
<path d="M544.1,124.5 L549.3,124.9 L553.7,123.0 L558.0,123.8 L563.2,124.5 L569.0,124.9 L573.4,123.0 L575.4,120.8"/>
<path d="M514.1,134.0 L519.2,134.7 L527.3,134.0 L531.7,134.0 L536.8,132.5 L539.0,133.3"/>
<path d="M527.3,134.0 L528.0,138.4 L528.7,144.3 L530.2,149.4 L530.9,153.5"/>
<path d="M553.7,123.0 L554.4,128.2 L555.8,134.0 L558.0,138.4 L559.5,141.3 L555.8,142.8 L553.7,145.7 L554.4,149.4 L557.3,151.6"/>
<path d="M526.4,139.5 L529.3,145.4 L530.1,152.0 L522.7,150.5 L518.3,149.8"/>
<path d="M510.3,186.4 L515.4,188.6 L522.0,187.9 L524.2,190.8 L529.3,191.6 L534.5,188.6 L538.9,186.4 L541.8,185.0"/>
<path d="M536.7,139.5 L538.1,146.8 L541.8,155.6 L541.1,165.9 L542.5,176.2 L541.8,185.0 L539.6,190.8 L538.1,198.2 L535.2,202.5 L533.0,208.4 L532.3,214.3 L533.7,220.1 L535.2,223.5"/>
<path d="M541.8,155.6 L547.7,154.9 L553.5,152.7 L559.4,152.0 L563.8,153.4 L568.2,154.9 L573.3,155.6 L574.0,161.5 L572.6,165.9 L569.6,168.8 L565.2,168.1 L559.4,169.6 L555.0,171.0 L549.1,170.3 L546.2,166.6 L541.8,164.4"/>
<path d="M541.8,186.4 L547.7,185.0 L550.6,182.0 L554.3,182.8 L556.5,186.4 L560.8,185.0 L565.2,186.4 L568.2,183.5 L570.4,180.6 L571.1,174.7 L569.6,168.8"/>
<path d="M538.1,198.2 L541.8,199.6 L546.2,201.1 L549.1,202.5 L552.1,206.9 L556.5,208.4 L560.8,207.7 L563.8,204.0 L566.0,199.6 L566.7,195.2 L568.2,189.4 L570.4,180.6"/>
<path d="M570.4,180.6 L574.0,174.7 L578.4,173.2 L579.2,170.3 L579.9,164.4 L582.1,160.0 L582.8,155.6 L581.4,148.3 L582.1,139.5"/>
<path d="M579.2,170.3 L583.6,171.0 L586.9,172.5"/>
<path d="M573.3,155.6 L577.0,154.9 L582.1,155.6"/>
<path d="M520.7,270.5 L524.3,266.8 L528.0,262.4 L530.2,256.5 L530.9,250.7 L531.7,244.8 L532.4,242.6 L535.3,241.9 L536.1,237.5 L533.9,233.1 L535.3,228.7 L534.6,224.3 L538.3,222.1 L542.7,219.9 L546.3,221.4 L549.3,225.0 L551.5,229.4 L552.2,234.6 L551.5,239.0 L554.4,240.4 L557.3,238.2 L558.0,233.1 L557.3,227.2 L561.7,225.0 L563.2,221.4 L563.9,215.5 L561.7,209.6"/>
<path d="M534.6,228.7 L530.2,226.5 L529.5,221.4 L530.9,215.5 L533.1,209.6 L532.4,204.5 L536.8,199.4 L542.7,200.8 L545.6,203.8 L550.0,204.5 L552.9,208.2 L557.3,208.9 L561.7,209.6 L566.1,211.8 L570.5,214.0 L574.2,214.8"/>
<path d="M536.1,242.6 L539.7,244.8 L542.7,249.2 L544.1,255.1 L544.9,260.9 L545.6,266.1 L547.1,270.5"/>
<path d="M524.3,193.5 L525.1,200.1 L519.2,200.8 L513.3,202.3"/>
<path d="M579.1,33.5 L580.9,32.5 L582.3,34.4 L581.3,36.5 L579.4,35.6 L579.1,33.5"/>
<path d="M589.4,17.1 L587.2,18.3 L588.7,19.4 L590.6,18.6"/>
<path d="M586.5,26.6 L584.7,28.2 L586.2,29.7 L584.4,30.9"/>
<path d="M575.5,47.9 L572.5,50.8 L575.5,52.3 L573.5,54.5 L576.2,56.0 L574.1,57.6"/>
<path d="M567.4,62.5 L565.3,65.5 L567.7,66.9 L565.9,69.3"/>
<path d="M575.0,59.6 L576.5,61.8 L575.0,64.0"/>
<path d="M585.7,21.5 L586.9,23.0 L585.9,24.4"/>
<path d="M532.4,87.1 L534.4,89.4 L536.1,87.1 L538.3,88.6 L539.7,85.9 L542.1,87.1 L543.4,84.2 L545.9,85.6 L547.9,83.6"/>
<path d="M559.5,76.1 L561.4,78.0 L563.2,75.4 L561.7,73.2"/>
<path d="M604.7,110.1 L606.5,106.2 L608.5,102.3 L607.4,106.5 L604.7,110.1"/>
<path d="M606.2,77.6 L607.4,75.4 L608.4,78.3 L609.4,76.1"/>
</g>
<g fill-opacity="0.78">
<circle cx="595.8" cy="14.6" r="1.4" fill="#f4a100"/>
<circle cx="593.9" cy="15.0" r="0.7" fill="#f4a100"/>
<circle cx="596.8" cy="18.7" r="0.7" fill="#f4a100"/>
<circle cx="594.4" cy="23.4" r="1.64" fill="#f4a100"/>
<circle cx="590.0" cy="27.1" r="1.4" fill="#f4a100"/>
<circle cx="595.0" cy="31.0" r="4.09" fill="#f4a100"/>
<circle cx="578.7" cy="34.5" r="3.27" fill="#f4a100"/>
<circle cx="580.6" cy="40.4" r="4.68" fill="#f4a100"/>
<circle cx="583.3" cy="45.0" r="4.09" fill="#f4a100"/>
<circle cx="587.4" cy="38.6" r="3.27" fill="#f4a100"/>
<circle cx="586.8" cy="46.2" r="2.92" fill="#f4a100"/>
<circle cx="601.5" cy="26.3" r="3.51" fill="#b59c5c"/>
<circle cx="603.8" cy="29.8" r="3.51" fill="#b59c5c"/>
<circle cx="605.0" cy="39.2" r="4.44" fill="#b59c5c"/>
<circle cx="603.8" cy="46.2" r="3.51" fill="#b59c5c"/>
<circle cx="602.0" cy="50.9" r="2.11" fill="#b59c5c"/>
<circle cx="607.9" cy="55.0" r="4.44" fill="#b59c5c"/>
<circle cx="600.3" cy="60.2" r="3.51" fill="#b59c5c"/>
<circle cx="610.2" cy="65.5" r="2.92" fill="#b59c5c"/>
<circle cx="572.2" cy="55.0" r="1.75" fill="#97a784"/>
<circle cx="574.6" cy="57.5" r="1.4" fill="#97a784"/>
<circle cx="564.6" cy="66.7" r="2.34" fill="#97a784"/>
<circle cx="586.8" cy="57.9" r="0.7" fill="#97a784"/>
<circle cx="571.6" cy="60.8" r="0.94" fill="#97a784"/>
<circle cx="575.1" cy="63.2" r="0.94" fill="#97a784"/>
<circle cx="550.0" cy="85.7" r="5.13" fill="#dbac0d"/>
<circle cx="546.3" cy="84.2" r="2.93" fill="#dbac0d"/>
<circle cx="538.5" cy="86.4" r="1.76" fill="#dbac0d"/>
<circle cx="533.9" cy="90.8" r="2.93" fill="#dbac0d"/>
<circle cx="563.5" cy="92.3" r="1.17" fill="#dbac0d"/>
<circle cx="562.2" cy="95.2" r="0.59" fill="#dbac0d"/>
<circle cx="522.1" cy="102.2" r="4.11" fill="#f1870a"/>
<circle cx="523.6" cy="109.9" r="4.11" fill="#f1870a"/>
<circle cx="526.5" cy="121.9" r="1.76" fill="#f1870a"/>
<circle cx="522.6" cy="127.7" r="4.11" fill="#f1870a"/>
<circle cx="532.0" cy="128.9" r="4.11" fill="#f1870a"/>
<circle cx="512.6" cy="128.2" r="0.88" fill="#f1870a"/>
<circle cx="514.1" cy="124.2" r="0.59" fill="#f1870a"/>
<circle cx="514.4" cy="134.3" r="0.59" fill="#f1870a"/>
<circle cx="522.4" cy="139.9" r="0.59" fill="#f1870a"/>
<circle cx="539.7" cy="120.4" r="1.47" fill="#f1870a"/>
<circle cx="531.7" cy="135.5" r="4.4" fill="#d39133"/>
<circle cx="539.0" cy="136.2" r="2.2" fill="#d39133"/>
<circle cx="541.9" cy="140.6" r="3.67" fill="#f3a900"/>
<circle cx="551.5" cy="135.5" r="2.2" fill="#f3a900"/>
<circle cx="551.5" cy="141.4" r="2.93" fill="#f3a900"/>
<circle cx="555.9" cy="139.2" r="1.76" fill="#f3a900"/>
<circle cx="560.7" cy="103.7" r="2.93" fill="#ada927"/>
<circle cx="571.2" cy="104.7" r="2.64" fill="#ada927"/>
<circle cx="558.8" cy="113.5" r="2.35" fill="#ada927"/>
<circle cx="565.7" cy="102.5" r="0.88" fill="#ada927"/>
<circle cx="564.6" cy="113.1" r="0.73" fill="#ada927"/>
<circle cx="556.3" cy="120.1" r="1.76" fill="#ada927"/>
<circle cx="559.5" cy="121.6" r="2.05" fill="#ada927"/>
<circle cx="566.8" cy="122.3" r="0.73" fill="#ada927"/>
<circle cx="568.3" cy="78.3" r="2.93" fill="#97a784"/>
<circle cx="587.4" cy="83.9" r="1.17" fill="#97a784"/>
<circle cx="574.9" cy="64.4" r="2.2" fill="#97a784"/>
<circle cx="567.6" cy="87.1" r="1.76" fill="#97a784"/>
<circle cx="558.8" cy="126.7" r="2.93" fill="#9e3d35"/>
<circle cx="562.4" cy="133.3" r="2.2" fill="#9e3d35"/>
<circle cx="566.8" cy="131.8" r="1.17" fill="#9e3d35"/>
<circle cx="565.4" cy="137.7" r="3.67" fill="#9e3d35"/>
<circle cx="568.3" cy="142.1" r="4.4" fill="#9e3d35"/>
<circle cx="579.3" cy="104.7" r="4.11" fill="#ff0000"/>
<circle cx="579.3" cy="113.5" r="4.11" fill="#ff0000"/>
<circle cx="574.9" cy="124.5" r="4.4" fill="#ff0000"/>
<circle cx="581.5" cy="124.5" r="5.13" fill="#ff0000"/>
<circle cx="583.0" cy="129.6" r="4.4" fill="#ff0000"/>
<circle cx="578.6" cy="136.2" r="4.4" fill="#ff0000"/>
<circle cx="585.9" cy="105.5" r="0.59" fill="#ff0000"/>
<circle cx="594.0" cy="109.9" r="2.93" fill="#6d5b4f"/>
<circle cx="592.5" cy="117.2" r="2.93" fill="#6d5b4f"/>
<circle cx="593.2" cy="133.3" r="4.4" fill="#7fa742"/>
<circle cx="590.3" cy="139.2" r="4.4" fill="#7fa742"/>
<circle cx="594.7" cy="126.0" r="2.93" fill="#7fa742"/>
<circle cx="611.0" cy="73.2" r="4.4" fill="#b59c5c"/>
<circle cx="601.2" cy="75.8" r="2.05" fill="#6d5b4f"/>
<circle cx="600.0" cy="85.7" r="3.67" fill="#6d5b4f"/>
<circle cx="601.5" cy="95.9" r="4.4" fill="#6d5b4f"/>
<circle cx="598.5" cy="102.5" r="4.4" fill="#6d5b4f"/>
<circle cx="605.1" cy="104.0" r="3.23" fill="#6d5b4f"/>
<circle cx="591.9" cy="115.7" r="3.23" fill="#6d5b4f"/>
<circle cx="597.1" cy="114.3" r="2.93" fill="#6d5b4f"/>
<circle cx="597.1" cy="123.0" r="3.67" fill="#7fa742"/>
<circle cx="594.1" cy="130.4" r="4.11" fill="#7fa742"/>
<circle cx="592.7" cy="136.2" r="3.67" fill="#7fa742"/>
<circle cx="589.0" cy="141.4" r="2.93" fill="#7fa742"/>
<circle cx="538.1" cy="159.3" r="4.11" fill="#d39133"/>
<circle cx="519.1" cy="160.1" r="2.64" fill="#d39133"/>
<circle cx="522.0" cy="153.5" r="1.76" fill="#d39133"/>
<circle cx="522.3" cy="165.2" r="1.47" fill="#d39133"/>
<circle cx="517.9" cy="171.8" r="3.67" fill="#d39133"/>
<circle cx="513.9" cy="181.3" r="5.13" fill="#d39133"/>
<circle cx="519.1" cy="178.4" r="3.67" fill="#d39133"/>
<circle cx="514.7" cy="188.7" r="4.4" fill="#d39133"/>
<circle cx="529.3" cy="186.5" r="4.4" fill="#d39133"/>
<circle cx="524.2" cy="187.9" r="2.93" fill="#d39133"/>
<circle cx="536.7" cy="175.5" r="2.2" fill="#d39133"/>
<circle cx="511.0" cy="198.9" r="3.67" fill="#d39133"/>
<circle cx="518.3" cy="199.6" r="3.67" fill="#d39133"/>
<circle cx="530.8" cy="175.5" r="0.73" fill="#d39133"/>
<circle cx="533.0" cy="135.9" r="5.13" fill="#f1870a"/>
<circle cx="523.5" cy="130.0" r="3.67" fill="#f1870a"/>
<circle cx="538.9" cy="136.6" r="2.2" fill="#f3a900"/>
<circle cx="555.0" cy="148.3" r="5.87" fill="#f88a00"/>
<circle cx="549.9" cy="147.6" r="3.67" fill="#f88a00"/>
<circle cx="560.1" cy="145.4" r="3.67" fill="#f88a00"/>
<circle cx="562.3" cy="152.7" r="1.76" fill="#f88a00"/>
<circle cx="563.0" cy="135.9" r="3.67" fill="#9e3d35"/>
<circle cx="571.8" cy="149.1" r="3.67" fill="#9e3d35"/>
<circle cx="583.6" cy="131.5" r="3.67" fill="#ff0000"/>
<circle cx="577.0" cy="144.7" r="2.93" fill="#ff0000"/>
<circle cx="579.9" cy="144.7" r="1.76" fill="#ff0000"/>
<circle cx="577.0" cy="154.2" r="2.2" fill="#ff0000"/>
<circle cx="573.3" cy="131.5" r="2.93" fill="#ff0000"/>
<circle cx="588.0" cy="147.6" r="4.4" fill="#7fa742"/>
<circle cx="585.0" cy="154.9" r="4.4" fill="#7fa742"/>
<circle cx="586.5" cy="163.7" r="2.2" fill="#7fa742"/>
<circle cx="584.3" cy="168.1" r="1.47" fill="#7fa742"/>
<circle cx="560.9" cy="159.3" r="5.87" fill="#79b1ad"/>
<circle cx="567.4" cy="161.5" r="5.87" fill="#79b1ad"/>
<circle cx="558.7" cy="163.7" r="4.4" fill="#79b1ad"/>
<circle cx="570.4" cy="165.2" r="2.93" fill="#79b1ad"/>
<circle cx="565.2" cy="170.3" r="4.4" fill="#ce1e1a"/>
<circle cx="562.3" cy="175.5" r="4.4" fill="#ce1e1a"/>
<circle cx="568.9" cy="174.0" r="3.67" fill="#ce1e1a"/>
<circle cx="556.5" cy="176.2" r="3.23" fill="#ce1e1a"/>
<circle cx="566.0" cy="179.9" r="3.23" fill="#ce1e1a"/>
<circle cx="558.7" cy="178.4" r="2.2" fill="#ce1e1a"/>
<circle cx="577.7" cy="175.5" r="5.87" fill="#5bbcd6"/>
<circle cx="579.9" cy="182.8" r="5.13" fill="#5bbcd6"/>
<circle cx="576.2" cy="188.7" r="4.4" fill="#5bbcd6"/>
<circle cx="573.3" cy="194.5" r="3.67" fill="#5bbcd6"/>
<circle cx="575.5" cy="201.8" r="3.67" fill="#5bbcd6"/>
<circle cx="574.8" cy="209.9" r="2.93" fill="#5bbcd6"/>
<circle cx="569.6" cy="187.2" r="2.93" fill="#5bbcd6"/>
<circle cx="562.3" cy="187.2" r="3.67" fill="#f59900"/>
<circle cx="561.6" cy="195.2" r="5.13" fill="#f59900"/>
<circle cx="551.3" cy="190.1" r="2.2" fill="#f59900"/>
<circle cx="565.2" cy="198.2" r="2.2" fill="#f59900"/>
<circle cx="557.9" cy="198.9" r="2.93" fill="#f59900"/>
<circle cx="546.9" cy="206.5" r="1.76" fill="#f59900"/>
<circle cx="552.8" cy="206.2" r="1.17" fill="#f59900"/>
<circle cx="504.4" cy="201.8" r="2.2" fill="#23a276"/>
<circle cx="511.7" cy="207.0" r="4.4" fill="#23a276"/>
<circle cx="507.3" cy="211.4" r="3.67" fill="#23a276"/>
<circle cx="502.9" cy="198.2" r="0.88" fill="#23a276"/>
<circle cx="519.8" cy="213.3" r="1.17" fill="#23a276"/>
<circle cx="510.5" cy="210.9" r="5.13" fill="#23a276"/>
<circle cx="507.6" cy="213.8" r="3.67" fill="#23a276"/>
<circle cx="503.9" cy="220.4" r="2.2" fill="#23a276"/>
<circle cx="501.0" cy="209.4" r="0.88" fill="#23a276"/>
<circle cx="525.9" cy="219.7" r="1.47" fill="#23a276"/>
<circle cx="521.5" cy="224.8" r="1.47" fill="#23a276"/>
<circle cx="505.4" cy="227.0" r="2.2" fill="#23a276"/>
<circle cx="507.6" cy="231.4" r="3.67" fill="#23a276"/>
<circle cx="512.0" cy="233.6" r="3.67" fill="#23a276"/>
<circle cx="514.2" cy="229.2" r="2.2" fill="#23a276"/>
<circle cx="516.4" cy="242.4" r="4.4" fill="#23a276"/>
<circle cx="519.0" cy="236.5" r="0.73" fill="#23a276"/>
<circle cx="523.0" cy="262.9" r="3.23" fill="#23a276"/>
<circle cx="501.7" cy="220.4" r="1.76" fill="#23a276"/>
<circle cx="526.7" cy="272.4" r="3.67" fill="#3d7a69"/>
<circle cx="528.1" cy="267.8" r="1.76" fill="#3d7a69"/>
<circle cx="535.2" cy="272.2" r="2.2" fill="#3d7a69"/>
<circle cx="540.6" cy="271.7" r="1.76" fill="#3d7a69"/>
<circle cx="535.5" cy="276.8" r="0.44" fill="#3d7a69"/>
<circle cx="543.5" cy="233.6" r="3.67" fill="#0c9883"/>
<circle cx="548.7" cy="268.8" r="4.69" fill="#0c9883"/>
<circle cx="553.0" cy="267.3" r="3.67" fill="#0c9883"/>
<circle cx="563.3" cy="253.1" r="1.17" fill="#0c9883"/>
<circle cx="560.4" cy="262.2" r="2.93" fill="#0c9883"/>
<circle cx="543.5" cy="248.3" r="0.44" fill="#0c9883"/>
<circle cx="569.9" cy="219.7" r="5.87" fill="#51a45c"/>
<circle cx="568.4" cy="229.9" r="5.13" fill="#51a45c"/>
<circle cx="566.2" cy="238.0" r="5.13" fill="#51a45c"/>
<circle cx="565.5" cy="246.1" r="4.69" fill="#51a45c"/>
<circle cx="562.9" cy="223.3" r="1.76" fill="#51a45c"/>
<circle cx="571.4" cy="213.8" r="2.93" fill="#51a45c"/>
<circle cx="545.0" cy="216.7" r="4.69" fill="#f79200"/>
<circle cx="532.5" cy="216.4" r="2.2" fill="#f79200"/>
<circle cx="536.9" cy="217.5" r="1.03" fill="#f79200"/>
<circle cx="554.5" cy="211.6" r="0.59" fill="#f79200"/>
<circle cx="550.9" cy="214.5" r="0.44" fill="#f79200"/>
</g>
<g stroke="#111" stroke-width="0.38" stroke-opacity="0.62" fill="none">
<path d="M596,15 L588,38"/>
<path d="M596,15 L568.3,143"/>
<path d="M596,15 L557.5,200.5"/>
<path d="M583.3,42 L568.3,143"/>
<path d="M588,38 L568.3,143"/>
<path d="M580,45 L568.3,143"/>
<path d="M583.3,42 L563.5,189.5"/>
<path d="M580,45 L547.9,266.6"/>
<path d="M588,38 L570.5,233"/>
<path d="M568.3,143 L583.3,42"/>
<path d="M568.3,143 L580,45"/>
<path d="M568.3,143 L596,15"/>
<path d="M606,62.5 L568.3,143"/>
<path d="M568.3,143 L610.5,68.5"/>
<path d="M609.5,33 L610.5,68.5"/>
<path d="M609.5,33 L606,62.5"/>
<path d="M601,77 L568.3,143"/>
<path d="M600,99.6 L568.3,143"/>
<path d="M568.3,143 L600,99.6"/>
<path d="M601,84 L600,99.6"/>
<path d="M600,99.6 L592,128"/>
<path d="M601,77 L600,99.6"/>
<path d="M583,115 L568.3,143"/>
<path d="M592,128 L568.3,143"/>
<path d="M550,85.5 L568.3,143"/>
<path d="M568.3,143 L550,85.5"/>
<path d="M550,85.5 L513,128.5"/>
<path d="M550,85.5 L541.5,91.5"/>
<path d="M567.5,88 L568.3,143"/>
<path d="M567.5,88 L558.8,113.5"/>
<path d="M568.3,143 L558.8,113.5"/>
<path d="M558.8,113.5 L541,140"/>
<path d="M550,85.5 L558.8,113.5"/>
<path d="M567.5,88 L541.5,91.5"/>
<path d="M550,85.5 L541,140"/>
<path d="M544,121 L578,125"/>
<path d="M544,121 L568.3,143"/>
<path d="M513,128.5 L541,140"/>
<path d="M513,128.5 L568.3,143"/>
<path d="M541,140 L568.3,143"/>
<path d="M568.3,143 L541,140"/>
<path d="M513,128.5 L519,160"/>
<path d="M519,160 L568.3,143"/>
<path d="M519,160 L555.5,205"/>
<path d="M568.3,143 L528,185"/>
<path d="M511,199 L568.3,143"/>
<path d="M511,199 L559.5,197.5"/>
<path d="M514.5,221 L568.3,143"/>
<path d="M568.3,143 L518,221"/>
<path d="M514.5,221 L561.6,195.2"/>
<path d="M561.6,195.2 L518,221"/>
<path d="M514.5,221 L545,217"/>
<path d="M514.5,221 L511,199"/>
<path d="M568.3,143 L511,199"/>
<path d="M547.9,266.6 L568.3,143"/>
<path d="M568.3,143 L545,268"/>
<path d="M547.9,266.6 L557.5,200.5"/>
<path d="M523,263 L563.5,189.5"/>
<path d="M543.5,233 L555.5,205"/>
<path d="M561.6,195.2 L568.3,143"/>
<path d="M568.3,143 L559.5,197.5"/>
<path d="M564,170 L568.3,143"/>
<path d="M568.3,143 L564,170"/>
<path d="M575,205 L561.6,195.2"/>
<path d="M575,205 L568.3,143"/>
<path d="M570.5,233 L568.3,143"/>
<path d="M568.3,143 L570.5,233"/>
<path d="M570.5,233 L575,205"/>
<path d="M573,211 L568.3,143"/>
<path d="M545,217 L557.5,200.5"/>
<path d="M545,217 L568.3,143"/>
<path d="M566,185 L568.3,143"/>
<path d="M578,125 L568.3,143"/>
<path d="M568.3,143 L578,125"/>
<path d="M578,125 L600,99.6"/>
<path d="M606,62.5 L563.5,189.5"/>
<path d="M600,99.6 L555.5,205"/>
<path d="M600,99.6 L575,205"/>
<path d="M600,99.6 L570.5,233"/>
<path d="M592,128 L575,205"/>
<path d="M588,155 L570.5,233"/>
<path d="M568.3,143 L588,155"/>
<path d="M600,99.6 L585.5,163"/>
<path d="M568.3,143 L585.5,163"/>
<path d="M588,155 L581,181"/>
<path d="M600,99.6 L581,181"/>
<path d="M592,128 L588,155"/>
</g>
<g fill="#222" fill-opacity="0.85">
<polygon points="588.0,38.0 587.8,31.3 589.3,34.3 592.3,32.8"/>
<polygon points="557.5,200.5 556.4,193.8 558.3,196.7 561.1,194.8"/>
<polygon points="563.5,189.5 562.0,182.9 564.0,185.6 566.7,183.6"/>
<polygon points="547.9,266.6 546.4,260.0 548.5,262.7 551.2,260.7"/>
<polygon points="570.5,233.0 568.7,226.5 570.8,229.1 573.5,226.9"/>
<polygon points="583.3,42.0 584.7,48.6 582.7,45.9 580.0,47.9"/>
<polygon points="580.0,45.0 581.6,51.5 579.5,48.9 576.9,51.0"/>
<polygon points="596.0,15.0 597.0,21.7 595.2,18.8 592.3,20.6"/>
<polygon points="610.5,68.5 609.5,75.2 608.6,71.9 605.3,72.8"/>
<polygon points="610.5,68.5 607.9,62.3 610.4,64.6 612.7,62.1"/>
<polygon points="606.0,62.5 604.4,56.0 606.5,58.6 609.1,56.5"/>
<polygon points="600.0,99.6 598.2,106.1 597.7,102.8 594.3,103.3"/>
<polygon points="600.0,99.6 598.0,93.2 600.2,95.7 602.8,93.5"/>
<polygon points="592.0,128.0 591.4,121.3 593.1,124.2 596.0,122.6"/>
<polygon points="600.0,99.6 597.9,93.2 600.2,95.7 602.7,93.4"/>
<polygon points="550.0,85.5 554.2,90.8 551.2,89.2 549.6,92.2"/>
<polygon points="513.0,128.5 515.3,122.2 515.5,125.5 518.9,125.3"/>
<polygon points="541.5,91.5 545.3,85.9 544.7,89.2 548.0,89.8"/>
<polygon points="558.8,113.5 558.6,106.8 560.1,109.8 563.1,108.3"/>
<polygon points="558.8,113.5 563.0,118.8 560.0,117.2 558.4,120.2"/>
<polygon points="541.0,140.0 542.5,133.4 543.2,136.8 546.5,136.1"/>
<polygon points="558.8,113.5 554.6,108.2 557.6,109.8 559.2,106.8"/>
<polygon points="541.5,91.5 547.4,88.3 545.4,91.0 548.1,93.0"/>
<polygon points="541.0,140.0 539.7,133.4 541.6,136.1 544.4,134.2"/>
<polygon points="578.0,125.0 571.5,126.6 574.1,124.5 572.0,121.9"/>
<polygon points="541.0,140.0 534.3,139.8 537.4,138.5 536.1,135.4"/>
<polygon points="541.0,140.0 547.5,138.3 544.9,140.4 547.0,143.1"/>
<polygon points="519.0,160.0 515.5,154.3 518.3,156.2 520.2,153.4"/>
<polygon points="555.5,205.0 549.7,201.6 553.0,202.0 553.4,198.6"/>
<polygon points="528.0,185.0 530.6,178.8 530.7,182.2 534.1,182.1"/>
<polygon points="559.5,197.5 553.3,200.1 555.6,197.6 553.1,195.3"/>
<polygon points="518.0,221.0 519.4,214.4 520.1,217.7 523.4,217.0"/>
<polygon points="561.6,195.2 557.2,200.3 558.2,197.1 554.9,196.1"/>
<polygon points="518.0,221.0 522.2,215.7 521.4,219.0 524.6,219.9"/>
<polygon points="545.0,217.0 539.1,220.2 541.1,217.5 538.4,215.4"/>
<polygon points="511.0,199.0 514.4,204.8 511.6,202.9 509.6,205.6"/>
<polygon points="511.0,199.0 513.8,192.9 513.8,196.3 517.2,196.3"/>
<polygon points="545.0,268.0 543.8,261.4 545.7,264.2 548.5,262.2"/>
<polygon points="557.5,200.5 559.0,207.1 556.9,204.4 554.2,206.4"/>
<polygon points="563.5,189.5 562.6,196.2 561.6,192.9 558.4,193.9"/>
<polygon points="555.5,205.0 555.2,211.7 554.0,208.6 550.8,209.8"/>
<polygon points="559.5,197.5 558.1,190.9 560.1,193.6 562.9,191.7"/>
<polygon points="564.0,170.0 562.6,163.4 564.6,166.1 567.4,164.2"/>
<polygon points="561.6,195.2 568.1,197.0 564.8,197.5 565.3,200.9"/>
<polygon points="570.5,233.0 567.9,226.8 570.4,229.1 572.7,226.6"/>
<polygon points="575.0,205.0 576.4,211.6 574.4,208.9 571.6,210.8"/>
<polygon points="557.5,200.5 555.6,207.0 555.1,203.6 551.8,204.1"/>
<polygon points="578.0,125.0 577.1,131.7 576.1,128.4 572.9,129.4"/>
<polygon points="600.0,99.6 597.7,105.9 597.4,102.6 594.1,102.8"/>
<polygon points="563.5,189.5 563.2,182.8 564.7,185.8 567.8,184.3"/>
<polygon points="555.5,205.0 555.7,198.3 557.0,201.4 560.2,200.1"/>
<polygon points="575.0,205.0 574.1,198.3 575.9,201.2 578.8,199.4"/>
<polygon points="570.5,233.0 569.5,226.3 571.3,229.2 574.2,227.4"/>
<polygon points="575.0,205.0 574.0,198.3 575.8,201.2 578.7,199.4"/>
<polygon points="570.5,233.0 569.5,226.3 571.4,229.2 574.2,227.4"/>
<polygon points="588.0,155.0 581.4,153.8 584.7,153.0 583.9,149.7"/>
<polygon points="585.5,163.0 584.6,156.3 586.4,159.2 589.2,157.4"/>
<polygon points="585.5,163.0 579.6,159.8 583.0,160.0 583.2,156.7"/>
<polygon points="581.0,181.0 580.3,174.3 582.0,177.2 585.0,175.5"/>
<polygon points="581.0,181.0 580.1,174.3 581.9,177.2 584.8,175.4"/>
<polygon points="588.0,155.0 586.5,148.4 588.6,151.1 591.3,149.1"/>
<polygon points="568.3,143.0 564.1,137.7 567.1,139.3 568.7,136.3"/>
<polygon points="568.3,143.0 566.7,149.5 566.1,146.2 562.7,146.8"/>
<polygon points="568.3,143.0 570.1,136.5 570.6,139.8 574.0,139.3"/>
<polygon points="568.3,143.0 566.9,136.4 568.9,139.1 571.6,137.1"/>
<polygon points="568.3,143.0 569.9,149.6 567.8,146.9 565.1,148.9"/>
<polygon points="568.3,143.0 569.6,149.6 567.7,146.9 564.9,148.8"/>
<polygon points="568.3,143.0 563.1,147.3 564.6,144.3 561.6,142.8"/>
<polygon points="568.3,143.0 568.8,136.3 570.0,139.5 573.1,138.3"/>
<polygon points="568.3,143.0 561.6,143.7 564.5,142.0 562.8,139.1"/>
<polygon points="568.3,143.0 570.9,149.2 568.4,146.9 566.1,149.4"/>
<polygon points="568.3,143.0 569.7,149.6 567.7,146.9 564.9,148.8"/>
</g>
<rect x="600.5" y="7.3" width="78.4" height="13.2" fill="#fff" fill-opacity="0.82" stroke="#333" stroke-width="0.8"/>
<text x="639.7" y="17.5" font-size="9.9" text-anchor="middle">Antsiranana</text>
<rect x="500.6" y="68.5" width="78.4" height="13.8" fill="#fff" fill-opacity="0.82" stroke="#333" stroke-width="0.8"/>
<text x="539.8" y="79.3" font-size="9.9" text-anchor="middle">Mahajanga</text>
<rect x="606.7" y="88.5" width="79.3" height="13.1" fill="#fff" fill-opacity="0.82" stroke="#333" stroke-width="0.8"/>
<text x="645.8" y="98.6" font-size="9.9" text-anchor="middle">Toamasina</text>
<rect x="594.6" y="143.4" width="78.3" height="13.4" fill="#fff" fill-opacity="0.82" stroke="#333" stroke-width="0.8"/>
<text x="633.8" y="153.8" font-size="9.9" text-anchor="middle">Antananarivo</text>
<rect x="584.6" y="168.5" width="78.7" height="13.6" fill="#fff" fill-opacity="0.82" stroke="#333" stroke-width="0.8"/>
<text x="624.0" y="179.1" font-size="9.9" text-anchor="middle">Antsirabe</text>
<rect x="578.5" y="192" width="79.0" height="13.3" fill="#fff" fill-opacity="0.82" stroke="#333" stroke-width="0.8"/>
<text x="618.0" y="202.3" font-size="9.9" text-anchor="middle">Fianarantsoa</text>
<rect x="428.1" y="182.1" width="78.7" height="13.4" fill="#fff" fill-opacity="0.82" stroke="#333" stroke-width="0.8"/>
<text x="467.5" y="192.5" font-size="9.9" text-anchor="middle">Toliara</text>
<rect x="555.4" y="257" width="78.2" height="13.3" fill="#fff" fill-opacity="0.82" stroke="#333" stroke-width="0.8"/>
<text x="594.5" y="267.3" font-size="9.9" text-anchor="middle">Ambovombe</text>
</g>
<g id="pd">
<path d="M598.5,304.1 L600.1,308.2 L601.8,312.6 L605.5,317.0 L608.4,322.1 L610.4,328.7 L612.1,337.5 L613.6,344.9 L614.3,352.2 L615.3,359.5 L616.5,363.9 L616.5,365.0 L617.9,369.4 L617.2,375.3 L615.0,381.1 L612.8,384.1 L610.6,380.4 L609.1,376.7 L608.4,373.1 L606.9,375.3 L605.5,379.7 L606.6,384.1 L607.7,388.5 L608.4,394.3 L609.1,398.0 L607.7,401.7 L604.7,406.1 L602.5,411.9 L602.5,417.8 L601.1,423.7 L599.6,429.5 L597.4,438.3 L595.2,447.1 L593.8,446.7 L590.9,458.5 L588.0,470.2 L585.0,481.9 L582.8,493.7 L579.3,502.2 L576.4,509.5 L574.2,516.9 L572.0,524.2 L569.8,531.5 L566.8,538.9 L564.6,546.2 L566.1,549.1 L566.8,553.5 L565.4,557.9 L562.4,561.6 L558.0,563.8 L553.7,565.2 L549.3,566.7 L544.9,568.9 L540.5,571.8 L536.8,573.0 L533.9,571.8 L530.2,568.9 L526.5,566.7 L522.9,566.0 L520.7,564.5 L517.0,560.8 L514.8,556.4 L512.6,552.0 L510.4,547.7 L509.7,540.3 L509.7,533.0 L508.2,525.7 L506.0,518.3 L503.8,511.0 L503.5,503.7 L504.5,496.3 L505.9,493.7 L507.3,488.5 L511.0,486.3 L512.5,481.9 L514.7,477.5 L516.9,473.1 L519.8,468.7 L522.0,464.3 L523.5,458.5 L522.7,452.6 L522.0,446.7 L519.2,442.7 L518.5,438.3 L517.7,433.9 L516.3,429.5 L515.5,425.1 L515.5,420.7 L514.8,416.3 L513.3,411.9 L514.8,409.0 L517.0,406.1 L518.5,401.7 L520.7,395.8 L522.1,391.4 L522.1,387.7 L525.8,387.7 L529.5,387.7 L534.6,382.6 L536.1,383.3 L539.7,381.9 L543.4,380.4 L547.8,379.7 L552.2,378.9 L555.1,375.3 L558.0,372.3 L561.7,371.6 L561.5,371.2 L563.0,368.3 L565.2,365.4 L567.4,362.4 L569.6,358.0 L572.5,355.1 L574.0,352.2 L576.9,349.3 L575.5,345.6 L577.7,343.4 L579.9,339.0 L580.6,334.6 L581.3,330.9 L585.0,328.0 L587.9,325.8 L588.7,322.9 L590.9,320.7 L592.3,317.0 L591.6,312.6 L594.5,309.7 L596.7,306.0Z" fill="#fff" stroke="#707070" stroke-width="0.55" stroke-linejoin="round"/>
<g fill="none" stroke="#707070" stroke-width="0.55" stroke-linejoin="round">
<path d="M601.8,312.6 L601.1,318.5 L601.8,324.3 L600.4,328.7 L599.6,336.1 L600.4,340.5 L598.9,344.9 L596.7,347.8 L594.5,347.5 L592.3,349.3 L589.4,348.5 L586.5,347.8 L583.5,346.3 L581.6,344.1 L579.9,341.9"/>
<path d="M596.7,347.8 L598.9,352.9 L601.1,358.0 L601.8,362.4 L600.1,366.8 L596.7,369.8 L594.5,371.2"/>
<path d="M601.8,362.4 L606.2,366.8 L609.9,368.3 L610.6,374.2 L609.2,377.1"/>
<path d="M605.5,365.0 L602.5,366.5 L598.1,369.4 L594.5,371.6 L595.9,379.7 L598.1,384.1 L597.4,389.9 L595.2,394.3 L593.0,398.7 L591.5,403.1 L590.8,409.0 L591.5,413.4 L591.5,417.8 L596.7,417.8 L601.8,417.1"/>
<path d="M593.0,398.7 L589.3,392.9 L586.4,389.9 L582.0,388.2 L577.6,389.2 L577.3,394.3 L579.1,400.2 L580.5,404.6 L579.8,409.0 L577.6,413.4 L576.9,417.8 L576.1,423.7 L576.9,431.0 L578.3,438.3 L577.6,444.2 L576.9,449.0"/>
<path d="M591.5,417.8 L590.8,423.7 L587.9,428.0 L586.4,433.9 L587.1,438.3 L588.6,444.2 L589.3,449.0"/>
<path d="M529.5,387.7 L531.7,392.9 L533.9,396.5 L536.8,400.2 L539.0,403.1 L543.4,402.8 L547.1,403.9 L550.7,406.1 L554.4,404.6 L556.6,401.7 L560.2,400.9 L562.7,396.5 L565.4,393.6 L568.3,391.4 L566.8,387.0 L565.4,381.1 L563.9,375.3 L562.7,370.9"/>
<path d="M568.3,391.4 L572.7,390.7 L577.6,389.2"/>
<path d="M539.0,403.1 L539.7,409.0 L541.9,411.9 L545.6,414.1 L546.3,419.3 L544.9,422.9 L541.9,425.1 L540.5,428.8 L541.2,432.4 L539.7,436.8 L538.3,441.2 L539.7,444.9 L541.9,449.0"/>
<path d="M546.3,420.0 L551.5,420.4 L555.9,418.5 L560.2,419.3 L565.4,420.0 L571.2,420.4 L575.6,418.5 L577.6,416.3"/>
<path d="M516.3,429.5 L521.4,430.2 L529.5,429.5 L533.9,429.5 L539.0,428.0 L541.2,428.8"/>
<path d="M529.5,429.5 L530.2,433.9 L530.9,439.8 L532.4,444.9 L533.1,449.0"/>
<path d="M555.9,418.5 L556.6,423.7 L558.0,429.5 L560.2,433.9 L561.7,436.8 L558.0,438.3 L555.9,441.2 L556.6,444.9 L559.5,447.1"/>
<path d="M528.6,435.0 L531.5,440.9 L532.3,447.5 L524.9,446.0 L520.5,445.3"/>
<path d="M512.5,481.9 L517.6,484.1 L524.2,483.4 L526.4,486.3 L531.5,487.1 L536.7,484.1 L541.1,481.9 L544.0,480.5"/>
<path d="M538.9,435.0 L540.3,442.3 L544.0,451.1 L543.3,461.4 L544.7,471.7 L544.0,480.5 L541.8,486.3 L540.3,493.7 L537.4,498.0 L535.2,503.9 L534.5,509.8 L535.9,515.6 L537.4,519.0"/>
<path d="M544.0,451.1 L549.9,450.4 L555.7,448.2 L561.6,447.5 L566.0,448.9 L570.4,450.4 L575.5,451.1 L576.2,457.0 L574.8,461.4 L571.8,464.3 L567.4,463.6 L561.6,465.1 L557.2,466.5 L551.3,465.8 L548.4,462.1 L544.0,459.9"/>
<path d="M544.0,481.9 L549.9,480.5 L552.8,477.5 L556.5,478.3 L558.7,481.9 L563.0,480.5 L567.4,481.9 L570.4,479.0 L572.6,476.1 L573.3,470.2 L571.8,464.3"/>
<path d="M540.3,493.7 L544.0,495.1 L548.4,496.6 L551.3,498.0 L554.3,502.4 L558.7,503.9 L563.0,503.2 L566.0,499.5 L568.2,495.1 L568.9,490.7 L570.4,484.9 L572.6,476.1"/>
<path d="M572.6,476.1 L576.2,470.2 L580.6,468.7 L581.4,465.8 L582.1,459.9 L584.3,455.5 L585.0,451.1 L583.6,443.8 L584.3,435.0"/>
<path d="M581.4,465.8 L585.8,466.5 L589.1,468.0"/>
<path d="M575.5,451.1 L579.2,450.4 L584.3,451.1"/>
<path d="M522.9,566.0 L526.5,562.3 L530.2,557.9 L532.4,552.0 L533.1,546.2 L533.9,540.3 L534.6,538.1 L537.5,537.4 L538.3,533.0 L536.1,528.6 L537.5,524.2 L536.8,519.8 L540.5,517.6 L544.9,515.4 L548.5,516.9 L551.5,520.5 L553.7,524.9 L554.4,530.1 L553.7,534.5 L556.6,535.9 L559.5,533.7 L560.2,528.6 L559.5,522.7 L563.9,520.5 L565.4,516.9 L566.1,511.0 L563.9,505.1"/>
<path d="M536.8,524.2 L532.4,522.0 L531.7,516.9 L533.1,511.0 L535.3,505.1 L534.6,500.0 L539.0,494.9 L544.9,496.3 L547.8,499.3 L552.2,500.0 L555.1,503.7 L559.5,504.4 L563.9,505.1 L568.3,507.3 L572.7,509.5 L576.4,510.3"/>
<path d="M538.3,538.1 L541.9,540.3 L544.9,544.7 L546.3,550.6 L547.1,556.4 L547.8,561.6 L549.3,566.0"/>
<path d="M526.5,489.0 L527.3,495.6 L521.4,496.3 L515.5,497.8"/>
<path d="M581.3,329.0 L583.1,328.0 L584.5,329.9 L583.5,332.0 L581.6,331.1 L581.3,329.0"/>
<path d="M591.6,312.6 L589.4,313.8 L590.9,314.9 L592.8,314.1"/>
<path d="M588.7,322.1 L586.9,323.7 L588.4,325.2 L586.6,326.4"/>
<path d="M577.7,343.4 L574.7,346.3 L577.7,347.8 L575.7,350.0 L578.4,351.5 L576.3,353.1"/>
<path d="M569.6,358.0 L567.5,361.0 L569.9,362.4 L568.1,364.8"/>
<path d="M577.2,355.1 L578.7,357.3 L577.2,359.5"/>
<path d="M587.9,317.0 L589.1,318.5 L588.1,319.9"/>
<path d="M534.6,382.6 L536.6,384.9 L538.3,382.6 L540.5,384.1 L541.9,381.4 L544.3,382.6 L545.6,379.7 L548.1,381.1 L550.1,379.1"/>
<path d="M561.7,371.6 L563.6,373.5 L565.4,370.9 L563.9,368.7"/>
<path d="M606.9,405.6 L608.7,401.7 L610.7,397.8 L609.6,402.0 L606.9,405.6"/>
<path d="M608.4,373.1 L609.6,370.9 L610.6,373.8 L611.6,371.6"/>
</g>
<g fill-opacity="0.78">
<circle cx="596.7" cy="307.9" r="1.47" fill="#f4a100"/>
<circle cx="598.9" cy="308.5" r="1.17" fill="#f4a100"/>
<circle cx="597.4" cy="309.7" r="1.17" fill="#f4a100"/>
<circle cx="597.2" cy="317.4" r="1.47" fill="#f4a100"/>
<circle cx="593.0" cy="319.9" r="1.03" fill="#f4a100"/>
<circle cx="593.3" cy="324.3" r="1.76" fill="#f4a100"/>
<circle cx="597.9" cy="324.3" r="1.61" fill="#f4a100"/>
<circle cx="589.4" cy="329.5" r="1.32" fill="#f4a100"/>
<circle cx="591.6" cy="331.7" r="1.17" fill="#f4a100"/>
<circle cx="584.0" cy="332.8" r="2.35" fill="#f4a100"/>
<circle cx="579.1" cy="336.8" r="1.03" fill="#f4a100"/>
<circle cx="582.5" cy="339.4" r="1.32" fill="#f4a100"/>
<circle cx="588.9" cy="339.0" r="0.73" fill="#f4a100"/>
<circle cx="581.3" cy="327.0" r="0.59" fill="#f4a100"/>
<circle cx="604.0" cy="318.9" r="2.93" fill="#b59c5c"/>
<circle cx="602.6" cy="324.0" r="1.32" fill="#b59c5c"/>
<circle cx="606.5" cy="328.0" r="1.91" fill="#b59c5c"/>
<circle cx="607.7" cy="337.5" r="1.61" fill="#b59c5c"/>
<circle cx="610.4" cy="342.7" r="1.03" fill="#b59c5c"/>
<circle cx="604.5" cy="344.1" r="2.2" fill="#b59c5c"/>
<circle cx="610.4" cy="349.0" r="3.52" fill="#b59c5c"/>
<circle cx="606.2" cy="351.5" r="1.76" fill="#b59c5c"/>
<circle cx="603.0" cy="353.4" r="2.49" fill="#b59c5c"/>
<circle cx="612.6" cy="358.8" r="2.93" fill="#b59c5c"/>
<circle cx="612.8" cy="367.1" r="0.73" fill="#b59c5c"/>
<circle cx="611.4" cy="373.9" r="1.32" fill="#b59c5c"/>
<circle cx="579.6" cy="341.6" r="0.88" fill="#97a784"/>
<circle cx="575.2" cy="347.5" r="0.73" fill="#97a784"/>
<circle cx="574.0" cy="355.1" r="2.93" fill="#97a784"/>
<circle cx="573.7" cy="364.6" r="3.96" fill="#97a784"/>
<circle cx="583.5" cy="365.1" r="1.03" fill="#97a784"/>
<circle cx="589.4" cy="351.0" r="0.88" fill="#97a784"/>
<circle cx="571.1" cy="371.7" r="1.76" fill="#97a784"/>
<circle cx="590.1" cy="376.8" r="1.76" fill="#97a784"/>
<circle cx="571.1" cy="378.6" r="0.88" fill="#97a784"/>
<circle cx="604.0" cy="368.8" r="2.93" fill="#6d5b4f"/>
<circle cx="601.4" cy="375.4" r="1.47" fill="#6d5b4f"/>
<circle cx="552.0" cy="373.4" r="1.47" fill="#dbac0d"/>
<circle cx="562.6" cy="373.4" r="1.76" fill="#dbac0d"/>
<circle cx="547.6" cy="378.6" r="0.88" fill="#dbac0d"/>
<circle cx="524.3" cy="395.5" r="2.64" fill="#f1870a"/>
<circle cx="525.8" cy="402.8" r="2.05" fill="#f1870a"/>
<circle cx="518.0" cy="404.9" r="1.03" fill="#f1870a"/>
<circle cx="514.8" cy="410.0" r="1.91" fill="#f1870a"/>
<circle cx="516.6" cy="417.5" r="0.88" fill="#f1870a"/>
<circle cx="514.8" cy="421.2" r="1.76" fill="#f1870a"/>
<circle cx="525.4" cy="421.0" r="1.17" fill="#f1870a"/>
<circle cx="529.0" cy="415.1" r="0.59" fill="#f1870a"/>
<circle cx="534.3" cy="422.2" r="0.88" fill="#f1870a"/>
<circle cx="516.6" cy="427.3" r="0.59" fill="#f1870a"/>
<circle cx="525.1" cy="432.7" r="2.35" fill="#f1870a"/>
<circle cx="519.9" cy="432.7" r="0.88" fill="#f1870a"/>
<circle cx="528.0" cy="441.2" r="1.03" fill="#f1870a"/>
<circle cx="525.1" cy="446.8" r="0.73" fill="#f1870a"/>
<circle cx="530.6" cy="428.0" r="2.2" fill="#d39133"/>
<circle cx="535.8" cy="429.5" r="1.32" fill="#d39133"/>
<circle cx="541.2" cy="428.8" r="1.17" fill="#f3a900"/>
<circle cx="541.2" cy="379.7" r="0.88" fill="#dbac0d"/>
<circle cx="541.9" cy="382.9" r="0.88" fill="#dbac0d"/>
<circle cx="536.8" cy="384.1" r="0.73" fill="#dbac0d"/>
<circle cx="557.3" cy="391.4" r="2.93" fill="#dbac0d"/>
<circle cx="564.6" cy="388.5" r="1.61" fill="#dbac0d"/>
<circle cx="554.4" cy="379.7" r="0.44" fill="#dbac0d"/>
<circle cx="555.9" cy="382.3" r="0.44" fill="#dbac0d"/>
<circle cx="554.8" cy="385.2" r="0.44" fill="#dbac0d"/>
<circle cx="568.3" cy="395.5" r="2.93" fill="#ada927"/>
<circle cx="558.0" cy="400.2" r="1.91" fill="#ada927"/>
<circle cx="563.2" cy="397.0" r="0.88" fill="#ada927"/>
<circle cx="574.2" cy="398.0" r="0.88" fill="#ada927"/>
<circle cx="567.6" cy="406.5" r="1.47" fill="#ada927"/>
<circle cx="561.3" cy="406.8" r="0.59" fill="#ada927"/>
<circle cx="558.5" cy="412.7" r="1.17" fill="#ada927"/>
<circle cx="569.0" cy="415.3" r="3.96" fill="#ada927"/>
<circle cx="562.4" cy="414.9" r="0.59" fill="#ada927"/>
<circle cx="571.5" cy="381.9" r="1.17" fill="#97a784"/>
<circle cx="568.0" cy="384.1" r="0.73" fill="#97a784"/>
<circle cx="569.5" cy="424.8" r="2.49" fill="#9e3d35"/>
<circle cx="563.6" cy="426.3" r="0.59" fill="#9e3d35"/>
<circle cx="564.2" cy="429.1" r="0.59" fill="#9e3d35"/>
<circle cx="574.9" cy="428.8" r="0.88" fill="#9e3d35"/>
<circle cx="572.7" cy="432.4" r="1.47" fill="#9e3d35"/>
<circle cx="569.0" cy="437.6" r="5.28" fill="#9e3d35"/>
<circle cx="572.7" cy="444.2" r="3.23" fill="#9e3d35"/>
<circle cx="561.0" cy="420.0" r="0.73" fill="#9e3d35"/>
<circle cx="554.1" cy="428.0" r="0.88" fill="#f88a00"/>
<circle cx="558.5" cy="432.4" r="0.59" fill="#f88a00"/>
<circle cx="544.9" cy="434.6" r="0.88" fill="#f3a900"/>
<circle cx="553.7" cy="435.4" r="1.17" fill="#f88a00"/>
<circle cx="547.8" cy="438.3" r="1.32" fill="#f3a900"/>
<circle cx="552.9" cy="439.8" r="0.88" fill="#f88a00"/>
<circle cx="550.0" cy="442.3" r="0.59" fill="#f88a00"/>
<circle cx="556.6" cy="440.5" r="1.47" fill="#f88a00"/>
<circle cx="559.5" cy="439.0" r="0.73" fill="#f88a00"/>
<circle cx="557.8" cy="443.4" r="1.17" fill="#f88a00"/>
<circle cx="566.8" cy="440.5" r="1.47" fill="#f88a00"/>
<circle cx="542.4" cy="413.8" r="0.59" fill="#f3a900"/>
<circle cx="563.2" cy="445.6" r="0.73" fill="#f88a00"/>
<circle cx="560.2" cy="448.3" r="1.17" fill="#79b1ad"/>
<circle cx="568.3" cy="447.8" r="1.76" fill="#79b1ad"/>
<circle cx="602.2" cy="379.7" r="0.88" fill="#6d5b4f"/>
<circle cx="604.7" cy="384.5" r="1.47" fill="#6d5b4f"/>
<circle cx="603.3" cy="394.0" r="2.49" fill="#6d5b4f"/>
<circle cx="606.6" cy="399.9" r="1.76" fill="#6d5b4f"/>
<circle cx="599.9" cy="402.1" r="0.88" fill="#6d5b4f"/>
<circle cx="599.1" cy="407.5" r="1.76" fill="#6d5b4f"/>
<circle cx="595.5" cy="410.5" r="1.32" fill="#6d5b4f"/>
<circle cx="598.9" cy="410.5" r="0.88" fill="#6d5b4f"/>
<circle cx="600.8" cy="399.5" r="0.44" fill="#6d5b4f"/>
<circle cx="599.9" cy="415.9" r="1.76" fill="#7fa742"/>
<circle cx="598.4" cy="419.3" r="1.47" fill="#7fa742"/>
<circle cx="595.2" cy="422.9" r="2.49" fill="#7fa742"/>
<circle cx="596.7" cy="425.1" r="0.88" fill="#7fa742"/>
<circle cx="593.4" cy="430.0" r="1.17" fill="#7fa742"/>
<circle cx="586.1" cy="433.9" r="0.73" fill="#7fa742"/>
<circle cx="592.0" cy="435.4" r="0.88" fill="#7fa742"/>
<circle cx="593.7" cy="436.8" r="0.88" fill="#7fa742"/>
<circle cx="588.2" cy="398.7" r="3.96" fill="#ff0000"/>
<circle cx="582.0" cy="398.7" r="0.73" fill="#ff0000"/>
<circle cx="584.6" cy="407.5" r="1.91" fill="#ff0000"/>
<circle cx="584.6" cy="417.8" r="5.43" fill="#ff0000"/>
<circle cx="578.3" cy="415.6" r="1.47" fill="#ff0000"/>
<circle cx="585.7" cy="422.9" r="1.76" fill="#ff0000"/>
<circle cx="580.5" cy="425.1" r="1.47" fill="#ff0000"/>
<circle cx="580.5" cy="429.5" r="0.73" fill="#ff0000"/>
<circle cx="579.8" cy="439.8" r="3.23" fill="#ff0000"/>
<circle cx="586.1" cy="441.0" r="0.88" fill="#ff0000"/>
<circle cx="576.9" cy="437.6" r="0.88" fill="#ff0000"/>
<circle cx="582.7" cy="437.6" r="0.73" fill="#ff0000"/>
<circle cx="521.7" cy="453.0" r="2.05" fill="#d39133"/>
<circle cx="524.6" cy="458.5" r="1.61" fill="#d39133"/>
<circle cx="539.6" cy="460.7" r="3.81" fill="#d39133"/>
<circle cx="518.6" cy="465.8" r="2.93" fill="#d39133"/>
<circle cx="523.5" cy="467.6" r="2.05" fill="#d39133"/>
<circle cx="533.0" cy="468.7" r="3.23" fill="#d39133"/>
<circle cx="538.9" cy="468.7" r="1.03" fill="#d39133"/>
<circle cx="519.8" cy="471.7" r="1.03" fill="#d39133"/>
<circle cx="515.8" cy="474.9" r="0.88" fill="#d39133"/>
<circle cx="517.3" cy="482.2" r="1.17" fill="#d39133"/>
<circle cx="527.6" cy="481.2" r="1.47" fill="#d39133"/>
<circle cx="532.3" cy="479.0" r="1.17" fill="#d39133"/>
<circle cx="518.8" cy="487.3" r="3.23" fill="#d39133"/>
<circle cx="520.5" cy="492.9" r="1.76" fill="#d39133"/>
<circle cx="512.9" cy="492.9" r="0.73" fill="#d39133"/>
<circle cx="537.8" cy="450.7" r="0.73" fill="#d39133"/>
<circle cx="540.3" cy="452.6" r="0.59" fill="#d39133"/>
<circle cx="507.3" cy="490.0" r="2.05" fill="#23a276"/>
<circle cx="509.5" cy="492.2" r="1.47" fill="#23a276"/>
<circle cx="506.2" cy="495.1" r="1.17" fill="#23a276"/>
<circle cx="514.7" cy="499.1" r="1.91" fill="#23a276"/>
<circle cx="503.7" cy="502.2" r="1.03" fill="#23a276"/>
<circle cx="513.5" cy="502.9" r="1.32" fill="#23a276"/>
<circle cx="511.0" cy="506.1" r="0.88" fill="#23a276"/>
<circle cx="522.0" cy="506.6" r="2.64" fill="#23a276"/>
<circle cx="508.1" cy="509.8" r="0.88" fill="#23a276"/>
<circle cx="504.4" cy="514.2" r="1.47" fill="#23a276"/>
<circle cx="509.1" cy="513.9" r="0.73" fill="#23a276"/>
<circle cx="518.3" cy="515.6" r="0.59" fill="#23a276"/>
<circle cx="523.5" cy="517.8" r="0.73" fill="#23a276"/>
<circle cx="527.9" cy="513.4" r="0.59" fill="#23a276"/>
<circle cx="563.3" cy="455.5" r="1.91" fill="#79b1ad"/>
<circle cx="571.8" cy="456.0" r="1.91" fill="#79b1ad"/>
<circle cx="560.1" cy="451.4" r="1.03" fill="#79b1ad"/>
<circle cx="558.9" cy="457.0" r="1.03" fill="#79b1ad"/>
<circle cx="565.7" cy="452.9" r="0.73" fill="#79b1ad"/>
<circle cx="562.8" cy="461.4" r="0.44" fill="#79b1ad"/>
<circle cx="570.4" cy="462.6" r="2.05" fill="#ce1e1a"/>
<circle cx="564.5" cy="466.5" r="2.49" fill="#ce1e1a"/>
<circle cx="565.5" cy="470.6" r="2.2" fill="#ce1e1a"/>
<circle cx="570.1" cy="473.4" r="1.32" fill="#ce1e1a"/>
<circle cx="563.3" cy="476.3" r="1.17" fill="#ce1e1a"/>
<circle cx="560.4" cy="469.5" r="0.73" fill="#ce1e1a"/>
<circle cx="557.9" cy="470.2" r="0.73" fill="#ce1e1a"/>
<circle cx="567.4" cy="465.1" r="0.73" fill="#ce1e1a"/>
<circle cx="563.8" cy="485.6" r="5.13" fill="#f59900"/>
<circle cx="560.1" cy="496.6" r="3.23" fill="#f59900"/>
<circle cx="563.0" cy="493.7" r="1.47" fill="#f59900"/>
<circle cx="555.7" cy="499.1" r="0.88" fill="#f59900"/>
<circle cx="549.1" cy="499.5" r="0.73" fill="#f59900"/>
<circle cx="562.3" cy="501.7" r="1.76" fill="#f59900"/>
<circle cx="553.5" cy="483.4" r="0.73" fill="#f59900"/>
<circle cx="556.9" cy="506.1" r="1.32" fill="#f59900"/>
<circle cx="552.8" cy="507.3" r="1.17" fill="#f59900"/>
<circle cx="539.3" cy="510.2" r="2.2" fill="#f79200"/>
<circle cx="546.9" cy="509.8" r="0.73" fill="#f79200"/>
<circle cx="581.8" cy="476.8" r="3.23" fill="#5bbcd6"/>
<circle cx="571.1" cy="487.1" r="2.35" fill="#5bbcd6"/>
<circle cx="582.1" cy="484.9" r="1.91" fill="#5bbcd6"/>
<circle cx="578.9" cy="494.4" r="2.93" fill="#5bbcd6"/>
<circle cx="573.3" cy="474.6" r="0.73" fill="#5bbcd6"/>
<circle cx="577.0" cy="480.5" r="0.59" fill="#5bbcd6"/>
<circle cx="574.8" cy="487.8" r="0.73" fill="#5bbcd6"/>
<circle cx="574.8" cy="490.7" r="0.88" fill="#5bbcd6"/>
<circle cx="567.2" cy="499.1" r="1.17" fill="#5bbcd6"/>
<circle cx="573.3" cy="499.5" r="0.88" fill="#5bbcd6"/>
<circle cx="572.6" cy="503.9" r="0.73" fill="#5bbcd6"/>
<circle cx="577.0" cy="502.7" r="1.03" fill="#5bbcd6"/>
<circle cx="574.8" cy="506.8" r="0.59" fill="#5bbcd6"/>
<circle cx="579.2" cy="487.1" r="0.73" fill="#5bbcd6"/>
<circle cx="584.8" cy="470.2" r="0.73" fill="#5bbcd6"/>
<circle cx="581.4" cy="467.3" r="0.44" fill="#5bbcd6"/>
<circle cx="590.9" cy="443.1" r="3.96" fill="#7fa742"/>
<circle cx="589.1" cy="457.0" r="2.05" fill="#7fa742"/>
<circle cx="578.7" cy="460.7" r="2.93" fill="#7fa742"/>
<circle cx="587.7" cy="461.4" r="0.88" fill="#7fa742"/>
<circle cx="590.2" cy="450.4" r="0.88" fill="#7fa742"/>
<circle cx="564.1" cy="505.4" r="1.03" fill="#51a45c"/>
<circle cx="572.6" cy="510.5" r="1.17" fill="#51a45c"/>
<circle cx="565.2" cy="516.1" r="2.2" fill="#51a45c"/>
<circle cx="570.4" cy="514.2" r="0.73" fill="#51a45c"/>
<circle cx="574.8" cy="515.6" r="0.59" fill="#51a45c"/>
<circle cx="579.9" cy="447.5" r="2.93" fill="#ff0000"/>
<circle cx="547.7" cy="437.9" r="1.32" fill="#f88a00"/>
<circle cx="557.9" cy="442.3" r="0.88" fill="#f88a00"/>
<circle cx="516.3" cy="522.7" r="1.32" fill="#23a276"/>
<circle cx="508.2" cy="519.8" r="0.44" fill="#23a276"/>
<circle cx="509.2" cy="527.1" r="0.88" fill="#23a276"/>
<circle cx="513.8" cy="527.9" r="0.88" fill="#23a276"/>
<circle cx="521.4" cy="529.8" r="2.64" fill="#23a276"/>
<circle cx="510.8" cy="530.3" r="0.88" fill="#23a276"/>
<circle cx="518.5" cy="535.9" r="2.93" fill="#23a276"/>
<circle cx="521.1" cy="535.2" r="1.17" fill="#23a276"/>
<circle cx="525.4" cy="556.9" r="1.76" fill="#23a276"/>
<circle cx="530.2" cy="560.8" r="0.59" fill="#23a276"/>
<circle cx="529.5" cy="566.0" r="0.44" fill="#23a276"/>
<circle cx="537.5" cy="565.5" r="1.32" fill="#3d7a69"/>
<circle cx="538.0" cy="569.9" r="0.73" fill="#3d7a69"/>
<circle cx="543.4" cy="565.0" r="0.59" fill="#3d7a69"/>
<circle cx="547.1" cy="561.3" r="0.88" fill="#3d7a69"/>
<circle cx="546.0" cy="526.8" r="0.73" fill="#0c9883"/>
<circle cx="546.0" cy="541.8" r="1.76" fill="#0c9883"/>
<circle cx="551.5" cy="560.8" r="3.96" fill="#0c9883"/>
<circle cx="561.0" cy="560.4" r="2.49" fill="#0c9883"/>
<circle cx="562.2" cy="549.9" r="2.2" fill="#0c9883"/>
<circle cx="564.2" cy="552.3" r="1.91" fill="#0c9883"/>
<circle cx="565.8" cy="546.2" r="0.88" fill="#0c9883"/>
<circle cx="562.4" cy="555.0" r="1.03" fill="#0c9883"/>
<circle cx="571.2" cy="527.4" r="4.4" fill="#51a45c"/>
<circle cx="567.6" cy="539.9" r="2.64" fill="#51a45c"/>
<circle cx="572.3" cy="520.5" r="1.47" fill="#51a45c"/>
<circle cx="570.5" cy="516.1" r="0.88" fill="#51a45c"/>
<circle cx="571.5" cy="512.5" r="1.17" fill="#51a45c"/>
<circle cx="569.8" cy="535.2" r="0.88" fill="#51a45c"/>
<circle cx="547.1" cy="508.8" r="0.73" fill="#f79200"/>
<circle cx="552.9" cy="507.6" r="1.47" fill="#f79200"/>
<circle cx="549.3" cy="499.7" r="0.88" fill="#f79200"/>
</g>
<g fill="#f0f0f0" stroke="#111" stroke-width="0.9">
<circle cx="592.9" cy="518.9" r="2.4"/><circle cx="592.9" cy="532.2" r="4.9"/><circle cx="592.9" cy="551.3" r="8"/>
</g>
<text x="605.5" y="475.8" font-size="11.7">Temporal</text>
<text x="605.5" y="489.9" font-size="11.7">variation in</text>
<text x="605.5" y="504.0" font-size="11.7">travel</text>
<text x="605.5" y="521.6" font-size="10">Low - 0.07</text>
<text x="605.5" y="554.6" font-size="10">High - 2.8</text>
</g>
</svg></body></html>
